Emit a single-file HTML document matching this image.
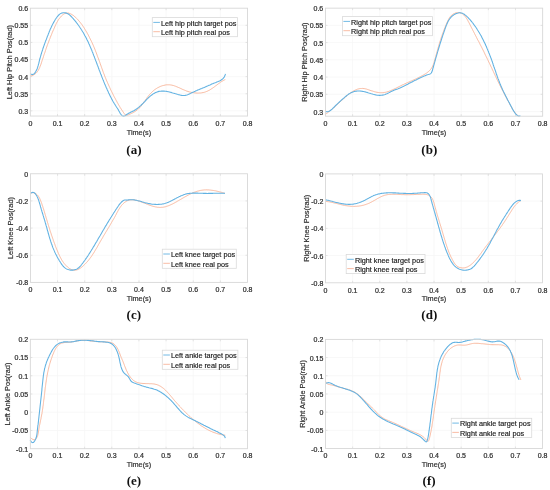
<!DOCTYPE html>
<html><head><meta charset="utf-8"><style>
html,body{margin:0;padding:0;background:#fff;}
svg{display:block;}
.tk{font-family:"Liberation Sans",Arial,sans-serif;font-size:7.0px;fill:#333333;stroke:#333333;stroke-width:0.24px;}
.lb{font-family:"Liberation Sans",Arial,sans-serif;font-size:7.3px;fill:#2e2e2e;stroke:#2e2e2e;stroke-width:0.18px;}
.yl{font-family:"Liberation Sans",Arial,sans-serif;font-size:7.4px;fill:#2e2e2e;stroke:#2e2e2e;stroke-width:0.18px;}
.lg{font-family:"Liberation Sans",Arial,sans-serif;font-size:7.25px;fill:#1a1a1a;stroke:#1a1a1a;stroke-width:0.16px;}
.cp{font-family:"Liberation Serif","Times New Roman",serif;font-size:13px;font-weight:bold;fill:#111;}
</style></head><body>
<svg width="550" height="490" viewBox="0 0 550 490">
<rect width="550" height="490" fill="#fff"/>
<path d="M57.50 8.20V116.05 M84.65 8.20V116.05 M111.80 8.20V116.05 M138.95 8.20V116.05 M166.10 8.20V116.05 M193.25 8.20V116.05 M220.40 8.20V116.05 M30.35 110.85H247.55 M30.35 93.74H247.55 M30.35 76.63H247.55 M30.35 59.52H247.55 M30.35 42.42H247.55 M30.35 25.31H247.55" stroke="#f6f6f6" stroke-width="0.8" fill="none"/>
<path d="M57.50 116.05v-2M57.50 8.20v2 M84.65 116.05v-2M84.65 8.20v2 M111.80 116.05v-2M111.80 8.20v2 M138.95 116.05v-2M138.95 8.20v2 M166.10 116.05v-2M166.10 8.20v2 M193.25 116.05v-2M193.25 8.20v2 M220.40 116.05v-2M220.40 8.20v2 M30.35 110.85h2M247.55 110.85h-2 M30.35 93.74h2M247.55 93.74h-2 M30.35 76.63h2M247.55 76.63h-2 M30.35 59.52h2M247.55 59.52h-2 M30.35 42.42h2M247.55 42.42h-2 M30.35 25.31h2M247.55 25.31h-2" stroke="#d8d8d8" stroke-width="0.7" fill="none"/>
<path d="M30.2 76.2L31.2 75.9L32.1 75.6L33.0 75.2L33.8 74.8L34.6 74.4L35.3 73.8L35.9 73.3L36.5 72.7L37.1 72.0L37.6 71.3L38.1 70.6L38.5 69.9L38.9 69.1L39.3 68.3L39.7 67.5L40.0 66.6L40.4 65.8L40.7 64.9L41.0 64.1L41.3 63.2L41.6 62.3L41.8 61.5L42.1 60.6L42.4 59.7L42.7 58.9L43.0 58.0L43.3 57.2L43.5 56.3L43.8 55.4L44.1 54.6L44.4 53.7L44.7 52.9L45.0 52.1L45.3 51.2L45.5 50.4L45.8 49.5L46.1 48.7L46.4 47.8L46.7 47.0L47.0 46.1L47.3 45.3L47.6 44.5L47.9 43.6L48.3 42.8L48.6 41.9L48.9 41.1L49.2 40.2L49.5 39.4L49.9 38.6L50.2 37.7L50.5 36.9L50.9 36.0L51.2 35.2L51.6 34.4L51.9 33.5L52.2 32.7L52.6 31.9L52.9 31.0L53.3 30.2L53.7 29.4L54.0 28.6L54.4 27.8L54.7 26.9L55.1 26.1L55.5 25.3L55.8 24.5L56.2 23.7L56.6 22.9L57.0 22.2L57.5 21.4L57.9 20.6L58.4 19.8L58.9 19.1L59.5 18.3L60.1 17.6L60.7 16.8L61.4 16.1L62.0 15.5L62.7 14.9L63.5 14.3L64.2 13.8L65.0 13.5L65.8 13.2L66.5 13.0L67.3 13.0L68.1 13.0L68.9 13.2L69.7 13.5L70.5 13.8L71.3 14.2L72.1 14.7L72.9 15.2L73.7 15.7L74.4 16.3L75.1 17.0L75.8 17.6L76.5 18.3L77.2 18.9L77.8 19.6L78.4 20.3L79.0 21.0L79.6 21.7L80.2 22.4L80.7 23.1L81.3 23.8L81.8 24.5L82.3 25.2L82.8 25.9L83.3 26.7L83.8 27.4L84.3 28.2L84.7 28.9L85.2 29.7L85.6 30.4L86.1 31.2L86.5 32.0L87.0 32.7L87.4 33.5L87.9 34.3L88.3 35.1L88.7 35.9L89.1 36.7L89.5 37.5L89.9 38.3L90.3 39.1L90.7 39.9L91.1 40.7L91.5 41.5L91.9 42.3L92.3 43.2L92.6 44.0L93.0 44.8L93.4 45.6L93.7 46.5L94.1 47.3L94.4 48.1L94.8 49.0L95.1 49.8L95.4 50.6L95.7 51.5L96.1 52.3L96.4 53.1L96.7 54.0L97.0 54.8L97.3 55.7L97.6 56.5L97.9 57.4L98.3 58.2L98.6 59.0L98.9 59.9L99.2 60.7L99.5 61.6L99.8 62.4L100.1 63.3L100.4 64.1L100.7 65.0L101.0 65.8L101.3 66.7L101.6 67.5L101.9 68.4L102.2 69.2L102.5 70.0L102.8 70.9L103.1 71.7L103.4 72.6L103.7 73.4L104.1 74.2L104.4 75.1L104.7 75.9L105.0 76.8L105.4 77.6L105.7 78.4L106.0 79.2L106.4 80.1L106.7 80.9L107.1 81.7L107.5 82.6L107.8 83.4L108.2 84.2L108.6 85.0L108.9 85.8L109.3 86.6L109.7 87.5L110.1 88.3L110.4 89.1L110.8 89.9L111.2 90.7L111.6 91.5L112.0 92.3L112.4 93.1L112.8 93.9L113.2 94.7L113.6 95.5L114.0 96.4L114.4 97.2L114.9 97.9L115.3 98.7L115.7 99.5L116.1 100.3L116.6 101.1L117.0 101.9L117.4 102.7L117.9 103.5L118.3 104.3L118.8 105.1L119.2 105.8L119.7 106.6L120.1 107.4L120.6 108.1L121.1 108.9L121.6 109.7L122.1 110.4L122.6 111.2L123.1 111.9L123.6 112.7L124.1 113.4L124.6 114.1L125.2 114.8L125.8 115.2L126.5 115.4L127.2 115.3L128.1 115.0L128.9 114.6L129.8 114.2L130.6 113.8L131.5 113.4L132.3 113.0L133.1 112.6L133.9 112.1L134.7 111.7L135.5 111.2L136.2 110.7L137.0 110.2L137.6 109.6L138.3 109.0L138.9 108.4L139.6 107.8L140.2 107.1L140.7 106.5L141.3 105.8L141.8 105.1L142.4 104.4L142.9 103.7L143.4 103.0L143.9 102.2L144.4 101.5L145.0 100.8L145.5 100.0L146.0 99.3L146.5 98.6L147.0 97.8L147.5 97.1L148.1 96.4L148.6 95.7L149.2 95.0L149.8 94.3L150.4 93.6L151.0 93.0L151.7 92.3L152.3 91.7L153.0 91.1L153.7 90.5L154.4 89.9L155.1 89.4L155.9 88.9L156.6 88.4L157.4 87.9L158.2 87.5L159.0 87.1L159.8 86.7L160.7 86.3L161.5 86.0L162.4 85.7L163.3 85.5L164.1 85.3L165.0 85.1L165.9 84.9L166.8 84.8L167.7 84.8L168.6 84.8L169.4 84.8L170.3 84.9L171.2 85.0L172.0 85.2L172.9 85.4L173.7 85.6L174.5 85.9L175.4 86.2L176.2 86.5L177.0 86.9L177.8 87.2L178.7 87.6L179.5 87.9L180.3 88.3L181.2 88.7L182.0 89.1L182.8 89.5L183.7 89.8L184.5 90.2L185.4 90.5L186.2 90.9L187.1 91.2L188.0 91.5L188.9 91.7L189.7 92.0L190.6 92.2L191.5 92.4L192.4 92.6L193.3 92.7L194.2 92.8L195.1 92.9L196.0 93.0L196.9 93.1L197.7 93.1L198.6 93.1L199.5 93.0L200.4 93.0L201.3 92.9L202.1 92.7L203.0 92.6L203.8 92.4L204.7 92.2L205.5 91.9L206.3 91.6L207.1 91.3L207.9 90.9L208.7 90.5L209.5 90.1L210.3 89.6L211.1 89.1L211.8 88.6L212.6 88.1L213.3 87.6L214.1 87.1L214.8 86.5L215.6 85.9L216.3 85.4L217.0 84.8L217.8 84.3L218.5 83.7L219.3 83.2L220.0 82.7L220.7 82.1L221.5 81.6L222.2 81.2L223.0 80.7L223.7 80.3L224.5 79.9L225.3 79.6" stroke="#f8b69c" stroke-width="0.98" fill="none" stroke-linejoin="round"/>
<path d="M30.3 73.6L31.3 74.2L32.2 74.5L33.0 74.4L33.7 74.1L34.3 73.6L34.9 72.9L35.4 72.1L35.9 71.3L36.3 70.5L36.7 69.7L37.1 68.9L37.4 68.0L37.7 67.2L37.9 66.3L38.2 65.4L38.4 64.6L38.7 63.7L38.9 62.8L39.1 61.9L39.3 61.1L39.5 60.2L39.7 59.3L40.0 58.5L40.2 57.6L40.5 56.7L40.7 55.9L41.0 55.0L41.2 54.1L41.5 53.3L41.7 52.4L42.0 51.6L42.3 50.7L42.6 49.9L42.8 49.0L43.1 48.1L43.4 47.3L43.7 46.4L44.0 45.6L44.3 44.8L44.6 43.9L44.9 43.1L45.2 42.2L45.5 41.4L45.8 40.5L46.2 39.7L46.5 38.9L46.8 38.0L47.1 37.2L47.4 36.3L47.8 35.5L48.1 34.7L48.4 33.8L48.8 33.0L49.1 32.1L49.4 31.3L49.8 30.5L50.1 29.6L50.5 28.8L50.9 28.0L51.2 27.2L51.6 26.4L52.0 25.6L52.4 24.8L52.8 23.9L53.2 23.2L53.7 22.4L54.1 21.6L54.6 20.8L55.0 20.0L55.5 19.3L56.0 18.5L56.5 17.8L57.0 17.0L57.6 16.3L58.2 15.6L58.8 15.0L59.4 14.4L60.1 13.9L60.9 13.4L61.7 13.1L62.5 12.9L63.5 12.8L64.4 12.8L65.4 12.9L66.3 13.1L67.1 13.4L67.9 13.8L68.7 14.3L69.4 14.8L70.1 15.4L70.7 16.0L71.4 16.7L72.0 17.3L72.6 18.0L73.2 18.7L73.8 19.4L74.4 20.0L74.9 20.7L75.5 21.4L76.1 22.1L76.6 22.8L77.2 23.6L77.7 24.3L78.3 25.0L78.8 25.7L79.3 26.5L79.8 27.2L80.3 28.0L80.8 28.7L81.3 29.5L81.8 30.2L82.2 31.0L82.7 31.8L83.2 32.5L83.6 33.3L84.1 34.1L84.5 34.9L84.9 35.7L85.4 36.5L85.8 37.2L86.2 38.0L86.6 38.8L87.0 39.7L87.4 40.5L87.8 41.3L88.2 42.1L88.6 42.9L88.9 43.7L89.3 44.5L89.7 45.4L90.0 46.2L90.4 47.0L90.7 47.8L91.1 48.7L91.4 49.5L91.8 50.3L92.1 51.2L92.4 52.0L92.8 52.8L93.1 53.7L93.4 54.5L93.7 55.4L94.1 56.2L94.4 57.0L94.7 57.9L95.0 58.7L95.3 59.6L95.6 60.4L96.0 61.2L96.3 62.1L96.6 62.9L96.9 63.8L97.2 64.6L97.5 65.4L97.9 66.3L98.2 67.1L98.5 68.0L98.8 68.8L99.1 69.7L99.4 70.5L99.8 71.3L100.1 72.2L100.4 73.0L100.7 73.9L101.1 74.7L101.4 75.5L101.7 76.4L102.0 77.2L102.4 78.0L102.7 78.9L103.0 79.7L103.4 80.5L103.7 81.4L104.0 82.2L104.4 83.0L104.7 83.9L105.1 84.7L105.4 85.5L105.8 86.4L106.1 87.2L106.5 88.0L106.9 88.8L107.2 89.7L107.6 90.5L108.0 91.3L108.3 92.1L108.7 93.0L109.1 93.8L109.5 94.6L109.9 95.4L110.3 96.2L110.7 97.0L111.1 97.8L111.5 98.6L111.9 99.4L112.4 100.2L112.8 101.0L113.2 101.7L113.7 102.5L114.1 103.3L114.6 104.0L115.1 104.8L115.5 105.5L116.0 106.3L116.5 107.0L117.0 107.8L117.5 108.5L118.0 109.3L118.5 110.1L118.9 110.9L119.4 111.8L119.9 112.7L120.3 113.5L120.9 114.3L121.5 115.0L122.1 115.6L122.8 116.0L123.5 116.1L124.3 116.0L125.0 115.7L125.7 115.2L126.4 114.7L127.1 114.2L127.9 113.8L128.6 113.3L129.4 112.9L130.2 112.5L131.0 112.1L131.8 111.7L132.6 111.3L133.4 110.9L134.2 110.5L135.0 110.0L135.8 109.5L136.5 109.0L137.2 108.5L138.0 107.9L138.7 107.4L139.3 106.8L140.0 106.2L140.7 105.6L141.3 105.0L141.9 104.4L142.5 103.8L143.2 103.2L143.8 102.5L144.4 101.9L145.0 101.3L145.6 100.6L146.2 100.0L146.8 99.3L147.5 98.7L148.1 98.1L148.8 97.4L149.5 96.8L150.2 96.2L150.9 95.6L151.7 95.0L152.4 94.5L153.2 93.9L154.0 93.4L154.8 93.0L155.6 92.6L156.5 92.2L157.3 91.9L158.1 91.6L159.0 91.4L159.8 91.3L160.7 91.2L161.6 91.1L162.4 91.1L163.3 91.1L164.1 91.1L165.0 91.2L165.9 91.3L166.8 91.4L167.6 91.6L168.5 91.8L169.4 92.0L170.3 92.2L171.2 92.4L172.0 92.7L172.9 93.0L173.8 93.2L174.7 93.5L175.6 93.8L176.5 94.0L177.3 94.3L178.2 94.6L179.1 94.8L180.0 95.0L180.8 95.2L181.7 95.4L182.6 95.5L183.4 95.5L184.3 95.5L185.1 95.4L186.0 95.2L186.8 95.0L187.7 94.7L188.5 94.3L189.4 94.0L190.2 93.6L191.1 93.1L191.9 92.7L192.7 92.3L193.6 91.9L194.4 91.5L195.2 91.2L196.1 90.8L196.9 90.5L197.7 90.1L198.5 89.8L199.4 89.5L200.2 89.1L201.0 88.8L201.8 88.5L202.6 88.1L203.4 87.8L204.3 87.4L205.1 87.1L205.9 86.7L206.7 86.3L207.5 86.0L208.4 85.6L209.2 85.2L210.0 84.9L210.9 84.5L211.7 84.1L212.5 83.8L213.4 83.5L214.2 83.1L215.1 82.8L215.9 82.5L216.8 82.1L217.6 81.8L218.5 81.5L219.3 81.1L220.1 80.7L220.8 80.3L221.5 79.8L222.2 79.3L222.9 78.7L223.4 78.1L224.0 77.4L224.4 76.7L224.8 75.8L225.2 74.9L225.4 73.9" stroke="#62b2e2" stroke-width="1.08" fill="none" stroke-linejoin="round"/>
<rect x="30.35" y="8.20" width="217.20" height="107.85" fill="none" stroke="#d8d8d8" stroke-width="0.9"/>
<text x="30.35" y="126.05" class="tk" text-anchor="middle">0</text>
<text x="57.50" y="126.05" class="tk" text-anchor="middle">0.1</text>
<text x="84.65" y="126.05" class="tk" text-anchor="middle">0.2</text>
<text x="111.80" y="126.05" class="tk" text-anchor="middle">0.3</text>
<text x="138.95" y="126.05" class="tk" text-anchor="middle">0.4</text>
<text x="166.10" y="126.05" class="tk" text-anchor="middle">0.5</text>
<text x="193.25" y="126.05" class="tk" text-anchor="middle">0.6</text>
<text x="220.40" y="126.05" class="tk" text-anchor="middle">0.7</text>
<text x="247.55" y="126.05" class="tk" text-anchor="middle">0.8</text>
<text x="28.15" y="113.80" class="tk" text-anchor="end">0.3</text>
<text x="28.15" y="96.69" class="tk" text-anchor="end">0.35</text>
<text x="28.15" y="79.58" class="tk" text-anchor="end">0.4</text>
<text x="28.15" y="62.47" class="tk" text-anchor="end">0.45</text>
<text x="28.15" y="45.37" class="tk" text-anchor="end">0.5</text>
<text x="28.15" y="28.26" class="tk" text-anchor="end">0.55</text>
<text x="28.15" y="11.15" class="tk" text-anchor="end">0.6</text>
<text x="138.95" y="134.65" class="lb" text-anchor="middle">Time(s)</text>
<text transform="translate(11.70 62.12) rotate(-90)" class="yl" text-anchor="middle">Left Hip Pitch Pos(rad)</text>
<rect x="152.30" y="17.60" width="85.26" height="19.10" fill="#fff" stroke="#dadada" stroke-width="0.8"/>
<path d="M153.30 22.40h6.6" stroke="#62b2e2" stroke-width="0.9"/>
<path d="M153.30 31.70h6.6" stroke="#f8b69c" stroke-width="0.9"/>
<text x="161.00" y="25.60" class="lg">Left hip pitch target pos</text>
<text x="161.00" y="34.90" class="lg">Left hip pitch real pos</text>
<text x="133.90" y="153.60" class="cp" text-anchor="middle">(a)</text>
<path d="M352.60 8.15V116.20 M379.75 8.15V116.20 M406.90 8.15V116.20 M434.05 8.15V116.20 M461.20 8.15V116.20 M488.35 8.15V116.20 M515.50 8.15V116.20 M325.45 111.55H542.65 M325.45 94.31H542.65 M325.45 77.08H542.65 M325.45 59.85H542.65 M325.45 42.62H542.65 M325.45 25.38H542.65" stroke="#f6f6f6" stroke-width="0.8" fill="none"/>
<path d="M352.60 116.20v-2M352.60 8.15v2 M379.75 116.20v-2M379.75 8.15v2 M406.90 116.20v-2M406.90 8.15v2 M434.05 116.20v-2M434.05 8.15v2 M461.20 116.20v-2M461.20 8.15v2 M488.35 116.20v-2M488.35 8.15v2 M515.50 116.20v-2M515.50 8.15v2 M325.45 111.55h2M542.65 111.55h-2 M325.45 94.31h2M542.65 94.31h-2 M325.45 77.08h2M542.65 77.08h-2 M325.45 59.85h2M542.65 59.85h-2 M325.45 42.62h2M542.65 42.62h-2 M325.45 25.38h2M542.65 25.38h-2" stroke="#d8d8d8" stroke-width="0.7" fill="none"/>
<path d="M325.3 114.4L326.1 113.9L326.8 113.3L327.6 112.8L328.3 112.2L329.0 111.6L329.7 111.1L330.4 110.5L331.1 110.0L331.7 109.4L332.4 108.8L333.1 108.3L333.7 107.7L334.4 107.1L335.0 106.6L335.6 106.0L336.3 105.4L336.9 104.8L337.5 104.3L338.2 103.7L338.8 103.1L339.4 102.5L340.1 101.9L340.7 101.3L341.4 100.7L342.0 100.1L342.7 99.5L343.3 98.9L344.0 98.3L344.7 97.7L345.4 97.1L346.1 96.4L346.8 95.8L347.5 95.2L348.2 94.7L348.9 94.1L349.7 93.5L350.4 93.0L351.1 92.5L351.9 92.0L352.7 91.5L353.4 91.0L354.2 90.6L355.0 90.2L355.8 89.9L356.6 89.5L357.4 89.2L358.2 89.0L359.0 88.8L359.8 88.6L360.6 88.5L361.5 88.5L362.3 88.4L363.1 88.5L364.0 88.6L364.8 88.7L365.7 88.9L366.6 89.1L367.4 89.4L368.3 89.7L369.2 90.0L370.0 90.3L370.9 90.6L371.8 90.9L372.7 91.1L373.5 91.4L374.4 91.7L375.3 91.9L376.1 92.1L377.0 92.3L377.9 92.4L378.7 92.5L379.6 92.6L380.5 92.7L381.3 92.7L382.2 92.7L383.0 92.7L383.9 92.6L384.7 92.4L385.5 92.3L386.4 92.1L387.2 91.8L388.1 91.6L388.9 91.3L389.7 91.0L390.5 90.7L391.4 90.3L392.2 90.0L393.0 89.6L393.8 89.2L394.6 88.8L395.5 88.4L396.3 88.0L397.1 87.6L397.9 87.2L398.7 86.8L399.5 86.4L400.3 86.0L401.1 85.6L401.9 85.2L402.7 84.8L403.5 84.5L404.3 84.1L405.1 83.7L405.9 83.4L406.7 83.0L407.5 82.6L408.3 82.3L409.1 81.9L409.9 81.6L410.7 81.2L411.5 80.9L412.3 80.5L413.1 80.2L413.9 79.8L414.7 79.4L415.5 79.1L416.3 78.7L417.1 78.3L417.9 77.9L418.7 77.5L419.5 77.1L420.3 76.7L421.0 76.3L421.8 75.9L422.6 75.4L423.4 75.0L424.2 74.5L425.0 74.1L425.7 73.6L426.5 73.1L427.2 72.6L427.9 72.0L428.6 71.5L429.2 70.9L429.9 70.2L430.4 69.6L431.0 68.9L431.5 68.2L431.9 67.5L432.3 66.8L432.7 66.0L433.1 65.2L433.4 64.4L433.7 63.5L434.0 62.7L434.2 61.8L434.5 61.0L434.7 60.1L435.0 59.3L435.2 58.4L435.5 57.5L435.7 56.7L435.9 55.8L436.2 54.9L436.4 54.1L436.7 53.2L436.9 52.3L437.1 51.5L437.4 50.6L437.6 49.7L437.9 48.9L438.1 48.0L438.3 47.2L438.6 46.3L438.8 45.5L439.1 44.6L439.3 43.8L439.6 42.9L439.8 42.1L440.1 41.2L440.4 40.4L440.6 39.6L440.9 38.7L441.2 37.9L441.4 37.1L441.7 36.3L442.0 35.5L442.3 34.6L442.6 33.8L442.9 33.0L443.2 32.2L443.5 31.4L443.8 30.5L444.1 29.7L444.4 28.9L444.7 28.1L445.1 27.2L445.4 26.4L445.7 25.5L446.1 24.7L446.5 23.8L446.8 23.0L447.2 22.1L447.6 21.3L448.0 20.4L448.4 19.6L448.8 18.8L449.3 18.1L449.8 17.3L450.3 16.6L450.9 16.0L451.5 15.3L452.2 14.8L452.9 14.3L453.6 13.8L454.4 13.5L455.1 13.1L456.0 12.9L456.8 12.7L457.6 12.6L458.4 12.6L459.3 12.7L460.1 12.8L460.9 13.0L461.6 13.4L462.4 13.8L463.0 14.3L463.7 14.9L464.3 15.5L464.9 16.2L465.5 16.9L466.1 17.7L466.6 18.5L467.1 19.3L467.6 20.1L468.0 20.9L468.4 21.7L468.9 22.5L469.3 23.3L469.7 24.1L470.1 24.9L470.5 25.7L470.9 26.5L471.3 27.3L471.7 28.1L472.1 28.8L472.5 29.6L472.9 30.4L473.3 31.2L473.7 31.9L474.1 32.7L474.5 33.5L474.9 34.3L475.3 35.1L475.7 35.8L476.1 36.6L476.5 37.4L476.9 38.2L477.3 39.0L477.7 39.8L478.1 40.5L478.6 41.3L479.0 42.1L479.4 42.9L479.8 43.7L480.2 44.5L480.6 45.3L481.0 46.1L481.4 46.8L481.8 47.6L482.2 48.4L482.6 49.2L483.0 50.0L483.4 50.8L483.8 51.6L484.2 52.4L484.6 53.2L484.9 54.0L485.3 54.8L485.7 55.6L486.1 56.4L486.5 57.2L486.9 58.0L487.3 58.8L487.7 59.6L488.1 60.4L488.4 61.2L488.8 62.0L489.2 62.8L489.6 63.6L490.0 64.4L490.3 65.2L490.7 66.0L491.1 66.8L491.5 67.6L491.9 68.4L492.2 69.2L492.6 70.0L493.0 70.8L493.4 71.6L493.7 72.4L494.1 73.2L494.5 74.0L494.9 74.8L495.2 75.6L495.6 76.4L496.0 77.2L496.4 78.0L496.8 78.8L497.1 79.6L497.5 80.4L497.9 81.2L498.3 82.0L498.7 82.8L499.1 83.6L499.5 84.4L499.8 85.1L500.2 85.9L500.6 86.7L501.0 87.5L501.4 88.3L501.8 89.1L502.2 89.9L502.6 90.7L503.1 91.4L503.5 92.2L503.9 93.0L504.3 93.8L504.7 94.6L505.1 95.4L505.5 96.1L506.0 96.9L506.4 97.7L506.8 98.5L507.2 99.3L507.6 100.1L508.1 100.8L508.5 101.6L508.9 102.4L509.3 103.2L509.7 104.0L510.2 104.8L510.6 105.6L511.0 106.4L511.4 107.1L511.9 107.9L512.3 108.7L512.7 109.5L513.2 110.2L513.7 110.9L514.2 111.6L514.7 112.3L515.3 113.0L515.8 113.7L516.4 114.3L517.0 114.9L517.7 115.5L518.4 116.0L519.1 116.5" stroke="#f8b69c" stroke-width="0.98" fill="none" stroke-linejoin="round"/>
<path d="M325.4 111.6L326.3 111.7L327.2 111.8L328.0 111.6L328.8 111.3L329.5 111.0L330.3 110.5L331.0 110.0L331.7 109.4L332.4 108.8L333.0 108.1L333.7 107.5L334.4 106.8L335.0 106.2L335.7 105.5L336.3 104.9L336.9 104.3L337.6 103.7L338.2 103.1L338.9 102.5L339.5 101.9L340.1 101.3L340.8 100.7L341.4 100.1L342.1 99.5L342.8 98.9L343.4 98.4L344.1 97.8L344.8 97.2L345.5 96.6L346.2 96.0L346.9 95.4L347.7 94.9L348.4 94.3L349.2 93.8L349.9 93.4L350.7 92.9L351.5 92.5L352.3 92.2L353.1 91.9L354.0 91.6L354.8 91.4L355.7 91.2L356.5 91.1L357.4 91.0L358.3 91.0L359.2 91.0L360.1 91.0L361.0 91.1L361.9 91.2L362.8 91.4L363.6 91.5L364.5 91.7L365.4 91.9L366.3 92.2L367.2 92.4L368.0 92.7L368.9 93.0L369.8 93.2L370.6 93.5L371.5 93.8L372.3 94.0L373.2 94.3L374.1 94.5L374.9 94.7L375.8 94.9L376.6 95.1L377.5 95.2L378.3 95.3L379.2 95.4L380.0 95.4L380.9 95.3L381.7 95.3L382.6 95.1L383.5 94.9L384.3 94.7L385.2 94.4L386.0 94.0L386.9 93.7L387.7 93.3L388.6 92.9L389.4 92.4L390.3 92.0L391.1 91.6L391.9 91.2L392.8 90.8L393.6 90.4L394.4 90.1L395.2 89.8L396.0 89.5L396.8 89.2L397.7 88.9L398.5 88.6L399.3 88.2L400.1 87.9L400.9 87.6L401.7 87.2L402.5 86.8L403.3 86.5L404.1 86.1L404.9 85.6L405.7 85.2L406.5 84.8L407.3 84.4L408.1 84.0L408.9 83.5L409.7 83.1L410.5 82.7L411.3 82.3L412.1 81.9L412.9 81.5L413.7 81.1L414.5 80.6L415.3 80.2L416.1 79.9L416.9 79.5L417.6 79.1L418.4 78.7L419.2 78.3L420.0 77.9L420.8 77.6L421.6 77.2L422.5 76.8L423.3 76.5L424.1 76.1L424.9 75.8L425.8 75.4L426.6 75.1L427.5 74.8L428.3 74.6L429.2 74.3L430.0 74.0L430.7 73.6L431.2 73.0L431.6 72.4L432.0 71.6L432.3 70.8L432.5 69.9L432.8 69.0L433.0 68.1L433.3 67.3L433.5 66.4L433.7 65.5L434.0 64.7L434.2 63.8L434.5 62.9L434.7 62.1L435.0 61.2L435.2 60.3L435.4 59.5L435.7 58.6L435.9 57.7L436.2 56.9L436.4 56.0L436.7 55.2L436.9 54.3L437.2 53.4L437.4 52.6L437.7 51.7L437.9 50.9L438.2 50.0L438.5 49.2L438.7 48.3L439.0 47.5L439.2 46.6L439.5 45.8L439.7 44.9L440.0 44.1L440.3 43.2L440.5 42.4L440.8 41.5L441.1 40.7L441.4 39.8L441.6 39.0L441.9 38.1L442.2 37.3L442.5 36.4L442.7 35.6L443.0 34.7L443.3 33.9L443.6 33.0L443.9 32.2L444.2 31.3L444.5 30.5L444.8 29.6L445.1 28.7L445.4 27.9L445.7 27.0L446.0 26.2L446.3 25.4L446.7 24.5L447.0 23.7L447.4 22.9L447.8 22.1L448.2 21.3L448.6 20.5L449.1 19.7L449.6 19.0L450.1 18.3L450.7 17.6L451.3 16.9L451.9 16.3L452.6 15.7L453.4 15.2L454.1 14.6L454.9 14.2L455.7 13.8L456.5 13.4L457.3 13.2L458.2 13.0L459.0 12.8L459.8 12.8L460.7 12.9L461.5 13.1L462.3 13.3L463.0 13.6L463.8 14.1L464.6 14.5L465.3 15.1L466.0 15.6L466.7 16.3L467.4 16.9L468.1 17.6L468.7 18.3L469.4 19.0L470.0 19.7L470.6 20.4L471.2 21.1L471.8 21.8L472.3 22.5L472.9 23.2L473.4 23.9L473.9 24.6L474.5 25.3L475.0 26.1L475.5 26.8L476.0 27.5L476.5 28.2L477.0 29.0L477.4 29.7L477.9 30.5L478.4 31.2L478.8 32.0L479.3 32.7L479.7 33.5L480.2 34.3L480.6 35.0L481.1 35.8L481.5 36.6L481.9 37.4L482.3 38.2L482.7 39.0L483.1 39.8L483.5 40.6L483.9 41.4L484.3 42.2L484.7 43.0L485.1 43.8L485.4 44.6L485.8 45.4L486.2 46.2L486.5 47.1L486.9 47.9L487.2 48.7L487.6 49.5L487.9 50.4L488.3 51.2L488.6 52.0L488.9 52.9L489.3 53.7L489.6 54.6L489.9 55.4L490.2 56.2L490.5 57.1L490.9 57.9L491.2 58.8L491.5 59.6L491.8 60.4L492.1 61.3L492.4 62.1L492.7 63.0L493.0 63.8L493.2 64.7L493.5 65.5L493.8 66.4L494.1 67.2L494.4 68.0L494.7 68.9L495.0 69.7L495.3 70.6L495.6 71.4L495.9 72.3L496.1 73.1L496.4 74.0L496.7 74.8L497.0 75.6L497.3 76.5L497.6 77.3L497.9 78.2L498.2 79.0L498.6 79.8L498.9 80.7L499.2 81.5L499.5 82.3L499.8 83.2L500.2 84.0L500.5 84.8L500.8 85.6L501.2 86.5L501.5 87.3L501.9 88.1L502.3 88.9L502.6 89.7L503.0 90.5L503.4 91.4L503.8 92.2L504.2 93.0L504.6 93.8L505.0 94.6L505.4 95.4L505.8 96.2L506.2 97.0L506.6 97.8L507.0 98.6L507.4 99.4L507.8 100.2L508.3 101.0L508.7 101.8L509.1 102.5L509.5 103.3L509.9 104.1L510.3 104.9L510.8 105.7L511.2 106.5L511.6 107.3L512.0 108.1L512.4 108.9L512.9 109.7L513.3 110.4L513.8 111.2L514.3 111.9L514.8 112.7L515.3 113.4L515.9 114.1L516.5 114.7L517.1 115.4L517.8 115.8L518.6 116.1L519.4 116.1L520.4 115.8" stroke="#62b2e2" stroke-width="1.08" fill="none" stroke-linejoin="round"/>
<rect x="325.45" y="8.15" width="217.20" height="108.05" fill="none" stroke="#d8d8d8" stroke-width="0.9"/>
<text x="325.45" y="126.20" class="tk" text-anchor="middle">0</text>
<text x="352.60" y="126.20" class="tk" text-anchor="middle">0.1</text>
<text x="379.75" y="126.20" class="tk" text-anchor="middle">0.2</text>
<text x="406.90" y="126.20" class="tk" text-anchor="middle">0.3</text>
<text x="434.05" y="126.20" class="tk" text-anchor="middle">0.4</text>
<text x="461.20" y="126.20" class="tk" text-anchor="middle">0.5</text>
<text x="488.35" y="126.20" class="tk" text-anchor="middle">0.6</text>
<text x="515.50" y="126.20" class="tk" text-anchor="middle">0.7</text>
<text x="542.65" y="126.20" class="tk" text-anchor="middle">0.8</text>
<text x="323.25" y="114.50" class="tk" text-anchor="end">0.3</text>
<text x="323.25" y="97.26" class="tk" text-anchor="end">0.35</text>
<text x="323.25" y="80.03" class="tk" text-anchor="end">0.4</text>
<text x="323.25" y="62.80" class="tk" text-anchor="end">0.45</text>
<text x="323.25" y="45.57" class="tk" text-anchor="end">0.5</text>
<text x="323.25" y="28.33" class="tk" text-anchor="end">0.55</text>
<text x="323.25" y="11.10" class="tk" text-anchor="end">0.6</text>
<text x="434.05" y="134.80" class="lb" text-anchor="middle">Time(s)</text>
<text transform="translate(307.00 62.18) rotate(-90)" class="yl" text-anchor="middle">Right Hip Pitch Pos(rad)</text>
<rect x="342.40" y="16.60" width="90.09" height="19.10" fill="#fff" stroke="#dadada" stroke-width="0.8"/>
<path d="M343.40 21.40h6.6" stroke="#62b2e2" stroke-width="0.9"/>
<path d="M343.40 30.70h6.6" stroke="#f8b69c" stroke-width="0.9"/>
<text x="351.10" y="24.60" class="lg">Right hip pitch target pos</text>
<text x="351.10" y="33.90" class="lg">Right hip pitch real pos</text>
<text x="429.30" y="153.60" class="cp" text-anchor="middle">(b)</text>
<path d="M57.58 173.75V282.40 M84.71 173.75V282.40 M111.84 173.75V282.40 M138.97 173.75V282.40 M166.11 173.75V282.40 M193.24 173.75V282.40 M220.37 173.75V282.40 M30.45 255.24H247.50 M30.45 228.07H247.50 M30.45 200.91H247.50" stroke="#f6f6f6" stroke-width="0.8" fill="none"/>
<path d="M57.58 282.40v-2M57.58 173.75v2 M84.71 282.40v-2M84.71 173.75v2 M111.84 282.40v-2M111.84 173.75v2 M138.97 282.40v-2M138.97 173.75v2 M166.11 282.40v-2M166.11 173.75v2 M193.24 282.40v-2M193.24 173.75v2 M220.37 282.40v-2M220.37 173.75v2 M30.45 255.24h2M247.50 255.24h-2 M30.45 228.07h2M247.50 228.07h-2 M30.45 200.91h2M247.50 200.91h-2" stroke="#d8d8d8" stroke-width="0.7" fill="none"/>
<path d="M30.5 193.0L31.5 192.7L32.4 192.7L33.2 192.7L34.0 192.8L34.7 193.1L35.4 193.4L36.0 193.8L36.6 194.3L37.2 194.8L37.7 195.3L38.2 196.0L38.7 196.6L39.1 197.3L39.5 198.0L39.8 198.7L40.2 199.5L40.5 200.3L40.8 201.0L41.1 201.8L41.4 202.6L41.7 203.4L42.0 204.3L42.2 205.1L42.5 205.9L42.8 206.7L43.0 207.5L43.3 208.3L43.5 209.0L43.8 209.8L44.0 210.6L44.3 211.4L44.5 212.2L44.7 213.0L45.0 213.8L45.2 214.6L45.4 215.3L45.7 216.1L45.9 216.9L46.1 217.7L46.4 218.5L46.6 219.3L46.8 220.0L47.1 220.8L47.3 221.6L47.5 222.4L47.8 223.2L48.0 223.9L48.2 224.7L48.5 225.5L48.7 226.3L49.0 227.1L49.2 227.8L49.5 228.6L49.7 229.4L49.9 230.2L50.2 231.0L50.4 231.7L50.7 232.5L51.0 233.3L51.2 234.1L51.5 234.9L51.7 235.6L52.0 236.4L52.3 237.2L52.5 238.0L52.8 238.7L53.1 239.5L53.3 240.3L53.6 241.1L53.9 241.8L54.2 242.6L54.5 243.4L54.8 244.2L55.0 244.9L55.3 245.7L55.6 246.5L55.9 247.3L56.2 248.0L56.5 248.8L56.8 249.6L57.2 250.3L57.5 251.1L57.8 251.9L58.1 252.6L58.4 253.4L58.8 254.1L59.1 254.9L59.5 255.6L59.8 256.4L60.2 257.1L60.6 257.9L61.0 258.6L61.4 259.3L61.8 260.0L62.2 260.7L62.7 261.4L63.1 262.1L63.6 262.7L64.1 263.4L64.6 264.0L65.2 264.6L65.7 265.2L66.3 265.8L66.9 266.4L67.5 267.0L68.2 267.5L68.8 268.0L69.5 268.5L70.2 268.9L70.9 269.3L71.6 269.6L72.4 269.8L73.1 270.0L73.9 270.1L74.6 270.2L75.4 270.1L76.2 270.0L76.9 269.8L77.7 269.6L78.4 269.3L79.1 268.9L79.8 268.5L80.5 268.0L81.2 267.5L81.9 267.0L82.6 266.5L83.2 265.9L83.8 265.3L84.4 264.7L85.0 264.1L85.6 263.5L86.2 262.9L86.8 262.3L87.3 261.7L87.9 261.0L88.4 260.4L88.9 259.8L89.4 259.1L89.9 258.4L90.4 257.8L90.9 257.1L91.4 256.4L91.8 255.8L92.3 255.1L92.7 254.4L93.2 253.7L93.6 253.0L94.1 252.3L94.5 251.6L94.9 250.9L95.3 250.2L95.7 249.5L96.2 248.8L96.6 248.1L97.0 247.4L97.4 246.7L97.8 246.0L98.2 245.3L98.6 244.5L99.0 243.8L99.4 243.1L99.8 242.4L100.2 241.7L100.6 241.0L101.0 240.3L101.4 239.6L101.9 238.9L102.3 238.2L102.7 237.5L103.1 236.7L103.5 236.0L103.9 235.3L104.4 234.6L104.8 233.9L105.2 233.2L105.6 232.5L106.0 231.8L106.5 231.1L106.9 230.4L107.3 229.7L107.7 229.0L108.1 228.3L108.6 227.6L109.0 226.9L109.4 226.2L109.8 225.5L110.2 224.8L110.7 224.1L111.1 223.3L111.5 222.6L111.9 221.9L112.3 221.2L112.7 220.5L113.1 219.8L113.6 219.1L114.0 218.3L114.4 217.6L114.8 216.9L115.2 216.2L115.6 215.4L116.0 214.7L116.4 214.0L116.7 213.2L117.1 212.5L117.5 211.8L117.9 211.1L118.3 210.3L118.7 209.6L119.2 208.9L119.6 208.2L120.0 207.5L120.5 206.8L121.0 206.2L121.5 205.5L122.0 204.9L122.6 204.3L123.2 203.7L123.8 203.1L124.4 202.6L125.1 202.1L125.8 201.6L126.5 201.2L127.2 200.8L127.9 200.5L128.7 200.3L129.4 200.1L130.2 199.9L130.9 199.8L131.7 199.8L132.5 199.8L133.2 199.8L134.0 199.9L134.8 200.0L135.6 200.2L136.4 200.3L137.2 200.5L138.0 200.8L138.8 201.0L139.6 201.3L140.4 201.6L141.2 201.9L142.0 202.2L142.8 202.5L143.6 202.8L144.4 203.1L145.2 203.4L146.0 203.7L146.8 204.1L147.6 204.4L148.4 204.7L149.2 205.0L150.0 205.3L150.8 205.5L151.5 205.8L152.3 206.1L153.1 206.3L153.9 206.5L154.7 206.7L155.5 206.9L156.3 207.0L157.1 207.2L157.8 207.3L158.6 207.3L159.4 207.4L160.2 207.4L160.9 207.4L161.7 207.3L162.5 207.3L163.3 207.2L164.0 207.0L164.8 206.9L165.6 206.7L166.3 206.4L167.1 206.2L167.9 205.9L168.6 205.7L169.4 205.4L170.1 205.0L170.9 204.7L171.7 204.3L172.4 204.0L173.2 203.6L173.9 203.2L174.7 202.8L175.4 202.4L176.1 202.0L176.9 201.6L177.6 201.1L178.4 200.7L179.1 200.3L179.8 199.8L180.6 199.4L181.3 199.0L182.0 198.5L182.8 198.1L183.5 197.7L184.2 197.3L184.9 196.9L185.7 196.5L186.4 196.1L187.1 195.7L187.9 195.3L188.6 194.9L189.3 194.5L190.0 194.2L190.8 193.8L191.5 193.5L192.2 193.1L193.0 192.8L193.7 192.5L194.5 192.2L195.2 192.0L196.0 191.7L196.7 191.4L197.5 191.2L198.3 191.0L199.0 190.8L199.8 190.6L200.6 190.4L201.4 190.3L202.1 190.2L202.9 190.1L203.7 190.0L204.5 189.9L205.4 189.9L206.2 189.8L207.0 189.9L207.8 189.9L208.7 189.9L209.5 190.0L210.4 190.1L211.2 190.2L212.1 190.3L212.9 190.4L213.7 190.5L214.6 190.7L215.4 190.8L216.2 191.0L217.1 191.2L217.9 191.4L218.7 191.6L219.5 191.8L220.3 192.0L221.1 192.2L221.9 192.4L222.6 192.7L223.4 192.9L224.1 193.1L224.8 193.3" stroke="#f8b69c" stroke-width="0.98" fill="none" stroke-linejoin="round"/>
<path d="M30.5 193.4L31.5 192.7L32.4 192.4L33.2 192.4L33.9 192.6L34.5 193.0L35.1 193.5L35.6 194.1L36.0 194.7L36.5 195.4L36.9 196.1L37.2 196.8L37.6 197.5L37.9 198.3L38.2 199.0L38.5 199.8L38.8 200.6L39.0 201.4L39.3 202.2L39.5 203.0L39.7 203.8L40.0 204.6L40.2 205.4L40.4 206.2L40.6 207.0L40.9 207.8L41.1 208.6L41.3 209.4L41.6 210.2L41.8 210.9L42.0 211.7L42.3 212.5L42.5 213.3L42.8 214.1L43.0 214.9L43.2 215.7L43.5 216.4L43.7 217.2L43.9 218.0L44.2 218.8L44.4 219.6L44.7 220.3L44.9 221.1L45.1 221.9L45.3 222.7L45.6 223.5L45.8 224.3L46.0 225.1L46.2 225.9L46.5 226.7L46.7 227.4L46.9 228.2L47.1 229.0L47.3 229.8L47.5 230.6L47.8 231.4L48.0 232.2L48.2 233.0L48.4 233.8L48.7 234.6L48.9 235.4L49.1 236.2L49.4 237.0L49.6 237.8L49.8 238.5L50.1 239.3L50.3 240.1L50.6 240.9L50.8 241.7L51.1 242.5L51.3 243.2L51.6 244.0L51.9 244.8L52.2 245.6L52.4 246.3L52.7 247.1L53.0 247.9L53.3 248.6L53.6 249.4L54.0 250.1L54.3 250.9L54.6 251.6L54.9 252.4L55.3 253.1L55.6 253.9L56.0 254.6L56.4 255.3L56.8 256.0L57.1 256.8L57.5 257.5L57.9 258.2L58.4 258.9L58.8 259.6L59.2 260.4L59.6 261.1L60.1 261.8L60.5 262.5L61.0 263.2L61.4 263.9L61.9 264.6L62.4 265.3L62.9 265.9L63.5 266.5L64.1 267.1L64.7 267.6L65.3 268.1L66.0 268.6L66.7 269.0L67.4 269.3L68.2 269.6L69.0 269.8L69.8 270.0L70.6 270.1L71.4 270.1L72.3 270.1L73.1 270.1L73.9 269.9L74.7 269.8L75.5 269.5L76.3 269.2L77.0 268.9L77.7 268.5L78.3 268.0L79.0 267.5L79.6 266.9L80.1 266.4L80.7 265.8L81.2 265.1L81.7 264.5L82.2 263.8L82.7 263.1L83.2 262.5L83.7 261.8L84.2 261.1L84.7 260.5L85.2 259.8L85.6 259.1L86.1 258.4L86.6 257.8L87.0 257.1L87.5 256.4L88.0 255.7L88.4 255.0L88.9 254.3L89.3 253.6L89.8 252.9L90.2 252.2L90.6 251.5L91.1 250.8L91.5 250.1L91.9 249.4L92.4 248.7L92.8 248.0L93.2 247.3L93.6 246.6L94.1 245.9L94.5 245.2L94.9 244.5L95.3 243.8L95.7 243.1L96.1 242.4L96.6 241.7L97.0 241.0L97.4 240.3L97.8 239.6L98.2 238.8L98.6 238.1L99.0 237.4L99.4 236.7L99.9 236.0L100.3 235.3L100.7 234.6L101.1 233.9L101.5 233.2L101.9 232.5L102.3 231.8L102.7 231.1L103.1 230.3L103.6 229.6L104.0 228.9L104.4 228.2L104.8 227.5L105.2 226.8L105.6 226.1L106.1 225.4L106.5 224.7L106.9 224.0L107.3 223.3L107.7 222.6L108.2 221.9L108.6 221.2L109.0 220.5L109.4 219.8L109.9 219.1L110.3 218.4L110.7 217.7L111.2 217.0L111.6 216.3L112.1 215.6L112.5 214.9L112.9 214.2L113.4 213.5L113.8 212.8L114.3 212.1L114.7 211.4L115.2 210.7L115.6 210.0L116.1 209.3L116.6 208.6L117.0 207.9L117.5 207.2L118.0 206.5L118.5 205.8L118.9 205.1L119.4 204.4L119.9 203.8L120.4 203.2L121.0 202.6L121.5 202.0L122.1 201.5L122.7 201.0L123.3 200.6L123.9 200.2L124.6 200.0L125.2 200.0L126.0 200.0L126.8 200.1L127.6 200.0L128.4 199.9L129.2 199.8L130.1 199.7L130.9 199.7L131.7 199.7L132.5 199.7L133.3 199.8L134.1 199.9L134.9 200.0L135.7 200.2L136.5 200.3L137.2 200.5L138.0 200.7L138.8 200.9L139.6 201.1L140.4 201.3L141.2 201.5L141.9 201.8L142.7 202.0L143.5 202.2L144.3 202.5L145.1 202.7L145.9 202.9L146.7 203.1L147.5 203.3L148.3 203.5L149.1 203.6L150.0 203.8L150.8 203.9L151.6 204.1L152.4 204.2L153.3 204.3L154.1 204.3L154.9 204.4L155.7 204.4L156.6 204.5L157.4 204.5L158.2 204.4L159.0 204.4L159.8 204.3L160.7 204.3L161.5 204.2L162.3 204.0L163.1 203.9L163.9 203.7L164.7 203.5L165.4 203.3L166.2 203.0L167.0 202.8L167.7 202.5L168.5 202.2L169.2 201.8L170.0 201.5L170.7 201.1L171.5 200.8L172.2 200.4L172.9 200.0L173.7 199.6L174.4 199.2L175.1 198.8L175.9 198.4L176.6 198.0L177.3 197.6L178.1 197.3L178.8 196.9L179.5 196.5L180.3 196.2L181.0 195.8L181.8 195.5L182.5 195.2L183.3 194.9L184.0 194.6L184.8 194.4L185.6 194.1L186.3 193.9L187.1 193.8L187.9 193.6L188.7 193.5L189.5 193.4L190.3 193.3L191.1 193.2L191.9 193.2L192.8 193.1L193.6 193.1L194.4 193.1L195.2 193.1L196.1 193.1L196.9 193.1L197.7 193.1L198.6 193.2L199.4 193.2L200.2 193.2L201.1 193.3L201.9 193.3L202.7 193.3L203.6 193.4L204.4 193.4L205.2 193.4L206.1 193.4L206.9 193.5L207.7 193.5L208.5 193.4L209.3 193.4L210.1 193.4L211.0 193.4L211.8 193.4L212.6 193.4L213.4 193.3L214.2 193.3L215.0 193.3L215.8 193.3L216.7 193.2L217.5 193.2L218.3 193.2L219.1 193.2L219.9 193.2L220.8 193.2L221.6 193.2L222.4 193.2L223.2 193.3L224.1 193.3L224.9 193.4" stroke="#62b2e2" stroke-width="1.08" fill="none" stroke-linejoin="round"/>
<rect x="30.45" y="173.75" width="217.05" height="108.65" fill="none" stroke="#d8d8d8" stroke-width="0.9"/>
<text x="30.45" y="292.40" class="tk" text-anchor="middle">0</text>
<text x="57.58" y="292.40" class="tk" text-anchor="middle">0.1</text>
<text x="84.71" y="292.40" class="tk" text-anchor="middle">0.2</text>
<text x="111.84" y="292.40" class="tk" text-anchor="middle">0.3</text>
<text x="138.97" y="292.40" class="tk" text-anchor="middle">0.4</text>
<text x="166.11" y="292.40" class="tk" text-anchor="middle">0.5</text>
<text x="193.24" y="292.40" class="tk" text-anchor="middle">0.6</text>
<text x="220.37" y="292.40" class="tk" text-anchor="middle">0.7</text>
<text x="247.50" y="292.40" class="tk" text-anchor="middle">0.8</text>
<text x="28.25" y="285.35" class="tk" text-anchor="end">-0.8</text>
<text x="28.25" y="258.19" class="tk" text-anchor="end">-0.6</text>
<text x="28.25" y="231.02" class="tk" text-anchor="end">-0.4</text>
<text x="28.25" y="203.86" class="tk" text-anchor="end">-0.2</text>
<text x="28.25" y="176.70" class="tk" text-anchor="end">0</text>
<text x="138.97" y="301.00" class="lb" text-anchor="middle">Time(s)</text>
<text transform="translate(13.30 228.07) rotate(-90)" class="yl" text-anchor="middle">Left Knee Pos(rad)</text>
<rect x="162.30" y="249.20" width="73.98" height="19.10" fill="#fff" stroke="#dadada" stroke-width="0.8"/>
<path d="M163.30 254.00h6.6" stroke="#62b2e2" stroke-width="0.9"/>
<path d="M163.30 263.30h6.6" stroke="#f8b69c" stroke-width="0.9"/>
<text x="171.00" y="257.20" class="lg">Left knee target pos</text>
<text x="171.00" y="266.50" class="lg">Left knee real pos</text>
<text x="133.80" y="318.90" class="cp" text-anchor="middle">(c)</text>
<path d="M352.63 173.90V282.80 M379.76 173.90V282.80 M406.89 173.90V282.80 M434.02 173.90V282.80 M461.16 173.90V282.80 M488.29 173.90V282.80 M515.42 173.90V282.80 M325.50 255.57H542.55 M325.50 228.35H542.55 M325.50 201.12H542.55" stroke="#f6f6f6" stroke-width="0.8" fill="none"/>
<path d="M352.63 282.80v-2M352.63 173.90v2 M379.76 282.80v-2M379.76 173.90v2 M406.89 282.80v-2M406.89 173.90v2 M434.02 282.80v-2M434.02 173.90v2 M461.16 282.80v-2M461.16 173.90v2 M488.29 282.80v-2M488.29 173.90v2 M515.42 282.80v-2M515.42 173.90v2 M325.50 255.57h2M542.55 255.57h-2 M325.50 228.35h2M542.55 228.35h-2 M325.50 201.12h2M542.55 201.12h-2" stroke="#d8d8d8" stroke-width="0.7" fill="none"/>
<path d="M325.7 201.4L326.5 201.5L327.3 201.6L328.1 201.7L328.9 201.8L329.6 201.9L330.4 202.1L331.2 202.2L332.0 202.4L332.8 202.6L333.6 202.8L334.3 203.0L335.1 203.1L335.9 203.3L336.7 203.5L337.5 203.7L338.3 203.9L339.1 204.1L339.8 204.3L340.6 204.5L341.4 204.7L342.2 204.9L343.0 205.1L343.8 205.3L344.6 205.4L345.4 205.6L346.2 205.7L347.0 205.8L347.8 205.9L348.6 206.0L349.4 206.1L350.2 206.2L351.0 206.3L351.8 206.3L352.6 206.3L353.4 206.4L354.2 206.4L355.0 206.4L355.7 206.3L356.5 206.3L357.3 206.2L358.1 206.1L358.9 206.1L359.7 205.9L360.5 205.8L361.3 205.7L362.0 205.5L362.8 205.3L363.6 205.2L364.4 204.9L365.1 204.7L365.9 204.5L366.6 204.2L367.4 203.9L368.1 203.6L368.8 203.3L369.6 203.0L370.3 202.6L371.0 202.3L371.7 201.9L372.4 201.5L373.1 201.1L373.9 200.7L374.6 200.3L375.3 199.9L376.0 199.5L376.7 199.1L377.4 198.6L378.1 198.3L378.8 197.9L379.5 197.5L380.2 197.1L380.9 196.8L381.7 196.4L382.4 196.1L383.1 195.8L383.9 195.6L384.6 195.3L385.4 195.1L386.1 194.9L386.9 194.8L387.7 194.6L388.5 194.5L389.3 194.4L390.1 194.4L390.9 194.3L391.7 194.3L392.5 194.3L393.3 194.3L394.1 194.3L394.9 194.3L395.7 194.3L396.6 194.3L397.4 194.4L398.2 194.4L399.0 194.4L399.8 194.5L400.6 194.5L401.4 194.6L402.3 194.6L403.1 194.6L403.9 194.6L404.7 194.7L405.5 194.7L406.3 194.7L407.1 194.7L407.8 194.7L408.6 194.7L409.4 194.7L410.2 194.7L411.0 194.6L411.8 194.6L412.6 194.6L413.4 194.6L414.2 194.5L415.0 194.5L415.8 194.5L416.6 194.5L417.4 194.4L418.2 194.4L419.0 194.4L419.8 194.3L420.7 194.3L421.5 194.3L422.3 194.2L423.2 194.2L424.0 194.2L424.8 194.3L425.6 194.4L426.4 194.5L427.2 194.7L427.9 194.9L428.6 195.2L429.3 195.6L429.9 196.0L430.5 196.5L431.1 197.0L431.6 197.6L432.0 198.2L432.4 198.9L432.7 199.5L433.1 200.3L433.3 201.0L433.6 201.8L433.9 202.5L434.1 203.3L434.3 204.1L434.5 204.9L434.7 205.8L434.9 206.6L435.1 207.3L435.4 208.1L435.6 208.9L435.8 209.7L436.0 210.5L436.2 211.3L436.5 212.1L436.7 212.8L436.9 213.6L437.1 214.4L437.4 215.2L437.6 215.9L437.8 216.7L438.1 217.5L438.3 218.2L438.5 219.0L438.8 219.8L439.0 220.5L439.2 221.3L439.5 222.1L439.7 222.8L439.9 223.6L440.2 224.3L440.4 225.1L440.6 225.9L440.9 226.6L441.1 227.4L441.3 228.2L441.6 228.9L441.8 229.7L442.0 230.5L442.2 231.2L442.5 232.0L442.7 232.8L442.9 233.5L443.1 234.3L443.4 235.1L443.6 235.9L443.8 236.6L444.0 237.4L444.3 238.2L444.5 239.0L444.7 239.7L445.0 240.5L445.2 241.3L445.4 242.0L445.7 242.8L445.9 243.6L446.2 244.4L446.4 245.1L446.7 245.9L446.9 246.7L447.2 247.4L447.4 248.2L447.7 248.9L448.0 249.7L448.3 250.5L448.5 251.2L448.8 252.0L449.1 252.7L449.4 253.4L449.7 254.2L450.1 254.9L450.4 255.6L450.7 256.4L451.1 257.1L451.4 257.8L451.8 258.5L452.1 259.2L452.5 259.9L452.9 260.6L453.3 261.3L453.7 262.0L454.1 262.7L454.5 263.3L455.0 264.0L455.5 264.6L456.0 265.2L456.6 265.7L457.2 266.2L457.9 266.7L458.6 267.1L459.4 267.4L460.2 267.6L461.1 267.8L462.0 267.9L462.8 268.0L463.7 267.9L464.5 267.8L465.2 267.7L466.0 267.5L466.7 267.2L467.5 266.9L468.2 266.5L468.8 266.1L469.5 265.7L470.1 265.3L470.8 264.8L471.4 264.3L472.0 263.8L472.6 263.3L473.1 262.7L473.7 262.2L474.3 261.6L474.8 261.1L475.3 260.5L475.9 259.9L476.4 259.3L476.9 258.7L477.4 258.0L477.9 257.4L478.4 256.8L478.9 256.1L479.3 255.5L479.8 254.8L480.3 254.2L480.8 253.5L481.3 252.9L481.7 252.2L482.2 251.5L482.7 250.9L483.2 250.2L483.6 249.6L484.1 248.9L484.6 248.3L485.1 247.6L485.6 247.0L486.0 246.3L486.5 245.7L487.0 245.1L487.5 244.4L488.0 243.8L488.5 243.1L489.0 242.5L489.5 241.9L490.0 241.2L490.5 240.6L491.0 240.0L491.5 239.3L491.9 238.7L492.4 238.1L492.9 237.4L493.4 236.8L493.9 236.2L494.4 235.6L494.9 234.9L495.4 234.3L495.9 233.6L496.4 233.0L496.8 232.4L497.3 231.7L497.8 231.1L498.3 230.5L498.8 229.8L499.3 229.2L499.7 228.5L500.2 227.9L500.7 227.2L501.1 226.6L501.6 225.9L502.1 225.3L502.5 224.6L503.0 224.0L503.4 223.3L503.9 222.6L504.3 222.0L504.8 221.3L505.2 220.6L505.7 220.0L506.1 219.3L506.5 218.6L507.0 217.9L507.4 217.2L507.8 216.6L508.2 215.9L508.7 215.2L509.1 214.5L509.5 213.8L510.0 213.1L510.4 212.4L510.8 211.8L511.3 211.1L511.7 210.4L512.1 209.7L512.6 209.0L513.0 208.4L513.5 207.7L513.9 207.0L514.4 206.4L514.9 205.8L515.4 205.2L515.9 204.6L516.5 204.0L517.0 203.4L517.6 202.9L518.2 202.4L518.8 201.9L519.5 201.4L520.1 201.0L520.8 200.6" stroke="#f8b69c" stroke-width="0.98" fill="none" stroke-linejoin="round"/>
<path d="M325.7 199.8L326.5 200.0L327.3 200.2L328.1 200.3L328.9 200.5L329.7 200.7L330.5 200.9L331.2 201.1L332.0 201.3L332.8 201.5L333.7 201.7L334.5 202.0L335.3 202.2L336.1 202.4L336.9 202.6L337.7 202.8L338.5 202.9L339.3 203.1L340.2 203.3L341.0 203.5L341.8 203.6L342.6 203.8L343.4 203.9L344.3 204.0L345.1 204.1L345.9 204.2L346.7 204.3L347.5 204.3L348.4 204.4L349.2 204.4L350.0 204.4L350.8 204.3L351.6 204.3L352.4 204.2L353.2 204.1L354.0 204.0L354.8 203.8L355.6 203.7L356.4 203.5L357.2 203.3L358.0 203.0L358.8 202.8L359.6 202.5L360.3 202.2L361.1 201.9L361.9 201.6L362.6 201.3L363.4 200.9L364.1 200.6L364.9 200.2L365.6 199.8L366.4 199.4L367.1 199.0L367.8 198.6L368.6 198.2L369.3 197.8L370.0 197.4L370.8 197.0L371.5 196.6L372.2 196.2L373.0 195.9L373.7 195.5L374.5 195.2L375.2 195.0L376.0 194.7L376.8 194.5L377.5 194.2L378.3 194.0L379.1 193.9L379.9 193.7L380.7 193.5L381.5 193.4L382.3 193.3L383.1 193.2L383.9 193.1L384.7 193.0L385.5 193.0L386.3 192.9L387.2 192.9L388.0 192.8L388.8 192.8L389.6 192.8L390.5 192.8L391.3 192.8L392.1 192.8L393.0 192.9L393.8 192.9L394.6 192.9L395.5 192.9L396.3 193.0L397.1 193.0L398.0 193.1L398.8 193.1L399.6 193.2L400.5 193.2L401.3 193.2L402.2 193.3L403.0 193.3L403.8 193.4L404.7 193.4L405.5 193.4L406.3 193.5L407.1 193.5L408.0 193.5L408.8 193.5L409.6 193.5L410.4 193.5L411.3 193.5L412.1 193.5L412.9 193.4L413.7 193.4L414.5 193.3L415.3 193.3L416.1 193.2L416.9 193.2L417.7 193.1L418.5 193.0L419.4 193.0L420.2 192.9L421.0 192.8L421.8 192.8L422.7 192.7L423.5 192.7L424.4 192.6L425.2 192.6L426.0 192.7L426.7 192.8L427.4 193.1L428.0 193.4L428.5 193.9L429.0 194.5L429.5 195.1L429.8 195.8L430.2 196.6L430.5 197.4L430.7 198.2L431.0 199.1L431.2 200.0L431.4 200.8L431.7 201.7L431.9 202.5L432.1 203.3L432.3 204.1L432.6 204.9L432.8 205.7L433.0 206.4L433.2 207.2L433.4 208.0L433.7 208.8L433.9 209.5L434.1 210.3L434.3 211.1L434.5 211.9L434.8 212.7L435.0 213.5L435.2 214.3L435.4 215.0L435.6 215.8L435.9 216.6L436.1 217.4L436.3 218.2L436.5 219.0L436.7 219.8L437.0 220.6L437.2 221.4L437.4 222.2L437.6 223.0L437.8 223.8L438.1 224.6L438.3 225.4L438.5 226.2L438.7 227.0L439.0 227.8L439.2 228.6L439.4 229.4L439.7 230.2L439.9 231.0L440.1 231.8L440.3 232.6L440.6 233.4L440.8 234.2L441.0 235.0L441.3 235.8L441.5 236.6L441.8 237.3L442.0 238.1L442.2 238.9L442.5 239.7L442.7 240.5L443.0 241.3L443.2 242.0L443.5 242.8L443.7 243.6L444.0 244.3L444.3 245.1L444.5 245.9L444.8 246.7L445.1 247.4L445.4 248.2L445.6 249.0L445.9 249.7L446.2 250.5L446.5 251.3L446.8 252.0L447.1 252.8L447.5 253.6L447.8 254.3L448.1 255.1L448.4 255.9L448.8 256.7L449.1 257.4L449.5 258.2L449.9 259.0L450.3 259.7L450.7 260.5L451.1 261.2L451.5 261.9L452.0 262.6L452.4 263.3L452.9 263.9L453.4 264.6L453.9 265.2L454.5 265.8L455.1 266.3L455.6 266.9L456.3 267.4L456.9 267.8L457.6 268.3L458.3 268.6L459.0 269.0L459.7 269.3L460.5 269.6L461.3 269.8L462.1 270.0L463.0 270.1L463.8 270.2L464.7 270.2L465.5 270.2L466.4 270.1L467.2 270.0L468.0 269.9L468.8 269.6L469.6 269.4L470.4 269.1L471.1 268.7L471.8 268.2L472.4 267.8L473.0 267.2L473.6 266.7L474.2 266.1L474.7 265.4L475.3 264.8L475.8 264.2L476.3 263.5L476.8 262.9L477.3 262.2L477.9 261.6L478.4 260.9L478.9 260.3L479.4 259.6L479.9 258.9L480.4 258.3L480.8 257.6L481.3 257.0L481.8 256.3L482.3 255.6L482.7 254.9L483.2 254.3L483.7 253.6L484.1 252.9L484.6 252.2L485.0 251.5L485.5 250.8L485.9 250.1L486.3 249.4L486.8 248.7L487.2 248.0L487.6 247.3L488.0 246.6L488.4 245.9L488.8 245.2L489.2 244.4L489.7 243.7L490.1 243.0L490.4 242.3L490.8 241.5L491.2 240.8L491.6 240.1L492.0 239.3L492.4 238.6L492.8 237.9L493.2 237.1L493.6 236.4L493.9 235.7L494.3 234.9L494.7 234.2L495.1 233.5L495.5 232.8L495.9 232.0L496.2 231.3L496.6 230.6L497.0 229.8L497.4 229.1L497.8 228.4L498.2 227.7L498.6 226.9L499.0 226.2L499.4 225.5L499.8 224.8L500.2 224.1L500.6 223.4L501.0 222.7L501.4 222.0L501.8 221.2L502.2 220.5L502.7 219.9L503.1 219.2L503.5 218.5L504.0 217.8L504.4 217.1L504.8 216.4L505.3 215.7L505.7 215.0L506.2 214.3L506.6 213.6L507.1 212.9L507.5 212.2L508.0 211.5L508.4 210.8L508.9 210.1L509.4 209.4L509.8 208.7L510.3 207.9L510.8 207.3L511.3 206.6L511.8 205.9L512.3 205.3L512.8 204.6L513.4 204.0L513.9 203.4L514.5 202.9L515.1 202.4L515.7 201.9L516.3 201.5L516.9 201.1L517.6 200.7L518.3 200.5L519.1 200.4L520.0 200.4L520.9 200.6" stroke="#62b2e2" stroke-width="1.08" fill="none" stroke-linejoin="round"/>
<rect x="325.50" y="173.90" width="217.05" height="108.90" fill="none" stroke="#d8d8d8" stroke-width="0.9"/>
<text x="325.50" y="292.80" class="tk" text-anchor="middle">0</text>
<text x="352.63" y="292.80" class="tk" text-anchor="middle">0.1</text>
<text x="379.76" y="292.80" class="tk" text-anchor="middle">0.2</text>
<text x="406.89" y="292.80" class="tk" text-anchor="middle">0.3</text>
<text x="434.02" y="292.80" class="tk" text-anchor="middle">0.4</text>
<text x="461.16" y="292.80" class="tk" text-anchor="middle">0.5</text>
<text x="488.29" y="292.80" class="tk" text-anchor="middle">0.6</text>
<text x="515.42" y="292.80" class="tk" text-anchor="middle">0.7</text>
<text x="542.55" y="292.80" class="tk" text-anchor="middle">0.8</text>
<text x="323.30" y="285.75" class="tk" text-anchor="end">-0.8</text>
<text x="323.30" y="258.52" class="tk" text-anchor="end">-0.6</text>
<text x="323.30" y="231.30" class="tk" text-anchor="end">-0.4</text>
<text x="323.30" y="204.07" class="tk" text-anchor="end">-0.2</text>
<text x="323.30" y="176.85" class="tk" text-anchor="end">0</text>
<text x="434.02" y="301.40" class="lb" text-anchor="middle">Time(s)</text>
<text transform="translate(308.70 228.35) rotate(-90)" class="yl" text-anchor="middle">Right Knee Pos(rad)</text>
<rect x="346.20" y="254.50" width="78.81" height="19.10" fill="#fff" stroke="#dadada" stroke-width="0.8"/>
<path d="M347.20 259.30h6.6" stroke="#62b2e2" stroke-width="0.9"/>
<path d="M347.20 268.60h6.6" stroke="#f8b69c" stroke-width="0.9"/>
<text x="354.90" y="262.50" class="lg">Right knee target pos</text>
<text x="354.90" y="271.80" class="lg">Right knee real pos</text>
<text x="429.30" y="318.90" class="cp" text-anchor="middle">(d)</text>
<path d="M57.49 339.30V448.70 M84.64 339.30V448.70 M111.78 339.30V448.70 M138.93 339.30V448.70 M166.07 339.30V448.70 M193.21 339.30V448.70 M220.36 339.30V448.70 M30.35 430.47H247.50 M30.35 412.23H247.50 M30.35 394.00H247.50 M30.35 375.77H247.50 M30.35 357.53H247.50" stroke="#f6f6f6" stroke-width="0.8" fill="none"/>
<path d="M57.49 448.70v-2M57.49 339.30v2 M84.64 448.70v-2M84.64 339.30v2 M111.78 448.70v-2M111.78 339.30v2 M138.93 448.70v-2M138.93 339.30v2 M166.07 448.70v-2M166.07 339.30v2 M193.21 448.70v-2M193.21 339.30v2 M220.36 448.70v-2M220.36 339.30v2 M30.35 430.47h2M247.50 430.47h-2 M30.35 412.23h2M247.50 412.23h-2 M30.35 394.00h2M247.50 394.00h-2 M30.35 375.77h2M247.50 375.77h-2 M30.35 357.53h2M247.50 357.53h-2" stroke="#d8d8d8" stroke-width="0.7" fill="none"/>
<path d="M30.2 437.2L30.8 437.8L31.5 438.5L32.3 439.1L33.1 439.6L34.0 439.8L34.8 439.6L35.5 439.1L36.1 438.5L36.6 437.9L37.0 437.1L37.4 436.4L37.7 435.5L37.9 434.7L38.1 433.8L38.3 432.9L38.4 431.9L38.6 431.0L38.7 430.1L38.9 429.2L39.0 428.3L39.2 427.4L39.3 426.5L39.5 425.6L39.7 424.7L39.9 423.8L40.1 422.9L40.2 422.0L40.4 421.2L40.6 420.3L40.8 419.4L41.0 418.6L41.1 417.7L41.3 416.8L41.5 415.9L41.6 415.1L41.8 414.2L42.0 413.3L42.1 412.4L42.3 411.5L42.4 410.6L42.5 409.8L42.7 408.9L42.8 408.0L42.9 407.1L43.0 406.2L43.2 405.3L43.3 404.4L43.4 403.5L43.5 402.6L43.6 401.7L43.7 400.8L43.8 399.9L44.0 399.0L44.1 398.1L44.2 397.2L44.3 396.3L44.4 395.4L44.5 394.5L44.6 393.6L44.7 392.7L44.8 391.8L44.9 390.9L45.0 390.0L45.1 389.1L45.2 388.2L45.3 387.3L45.5 386.4L45.6 385.5L45.7 384.6L45.8 383.8L45.9 382.9L46.1 382.0L46.2 381.1L46.3 380.2L46.5 379.3L46.6 378.5L46.7 377.6L46.9 376.7L47.0 375.8L47.2 375.0L47.4 374.1L47.5 373.2L47.7 372.3L47.9 371.5L48.1 370.6L48.3 369.7L48.5 368.9L48.7 368.0L48.9 367.1L49.1 366.2L49.3 365.4L49.6 364.5L49.8 363.6L50.1 362.8L50.3 361.9L50.6 361.0L50.9 360.2L51.2 359.3L51.5 358.4L51.8 357.6L52.1 356.7L52.4 355.8L52.7 354.9L53.1 354.1L53.5 353.2L53.8 352.3L54.2 351.5L54.6 350.6L55.0 349.8L55.5 349.0L55.9 348.2L56.4 347.5L57.0 346.7L57.5 346.1L58.1 345.5L58.7 344.9L59.3 344.4L60.0 343.9L60.8 343.5L61.5 343.2L62.3 343.0L63.2 342.8L64.0 342.6L64.9 342.5L65.8 342.4L66.8 342.4L67.7 342.3L68.6 342.3L69.6 342.2L70.5 342.1L71.4 342.0L72.3 341.9L73.2 341.7L74.1 341.6L75.0 341.4L75.8 341.2L76.7 341.0L77.6 340.9L78.5 340.7L79.3 340.6L80.2 340.5L81.1 340.4L82.0 340.3L82.9 340.3L83.7 340.3L84.6 340.3L85.5 340.3L86.5 340.4L87.4 340.5L88.3 340.6L89.2 340.8L90.1 340.9L91.0 341.0L91.9 341.1L92.8 341.2L93.7 341.3L94.6 341.4L95.4 341.5L96.3 341.6L97.2 341.6L98.1 341.7L99.0 341.7L99.8 341.8L100.7 341.8L101.6 341.8L102.5 341.9L103.4 341.9L104.4 341.9L105.3 341.9L106.2 342.0L107.2 342.0L108.1 342.1L109.0 342.2L109.9 342.3L110.8 342.5L111.6 342.8L112.4 343.1L113.2 343.5L113.9 343.9L114.5 344.5L115.1 345.1L115.7 345.7L116.2 346.4L116.7 347.2L117.2 347.9L117.7 348.8L118.1 349.6L118.5 350.5L118.9 351.3L119.2 352.2L119.6 353.1L119.9 354.0L120.2 354.9L120.6 355.7L120.9 356.5L121.2 357.4L121.6 358.2L121.9 358.9L122.2 359.7L122.6 360.5L122.9 361.3L123.2 362.1L123.5 362.9L123.9 363.8L124.2 364.6L124.5 365.5L124.8 366.3L125.2 367.2L125.5 368.0L125.9 368.9L126.2 369.8L126.6 370.6L127.0 371.4L127.4 372.3L127.8 373.1L128.3 373.9L128.7 374.7L129.2 375.5L129.7 376.2L130.2 376.9L130.8 377.7L131.4 378.3L132.0 379.0L132.6 379.6L133.2 380.2L133.9 380.7L134.6 381.2L135.4 381.6L136.1 382.0L136.9 382.3L137.7 382.6L138.6 382.8L139.4 383.0L140.3 383.2L141.2 383.3L142.1 383.4L143.0 383.5L143.9 383.5L144.9 383.5L145.8 383.6L146.7 383.6L147.7 383.6L148.6 383.6L149.6 383.7L150.5 383.7L151.4 383.7L152.4 383.8L153.3 383.9L154.2 384.0L155.1 384.2L155.9 384.4L156.8 384.6L157.6 384.9L158.4 385.2L159.2 385.6L159.9 386.0L160.7 386.4L161.4 386.9L162.1 387.4L162.8 387.9L163.5 388.4L164.2 389.0L164.9 389.6L165.5 390.2L166.2 390.9L166.8 391.5L167.4 392.2L168.1 392.9L168.7 393.6L169.3 394.3L169.9 395.0L170.5 395.7L171.1 396.4L171.7 397.1L172.3 397.8L172.8 398.5L173.4 399.2L174.0 399.9L174.6 400.6L175.2 401.3L175.8 402.0L176.4 402.6L177.0 403.3L177.6 404.0L178.2 404.6L178.8 405.3L179.4 406.0L180.0 406.6L180.6 407.3L181.2 407.9L181.8 408.6L182.4 409.2L183.0 409.8L183.7 410.5L184.3 411.1L184.9 411.7L185.5 412.4L186.2 413.0L186.8 413.6L187.4 414.2L188.1 414.8L188.7 415.5L189.4 416.1L190.1 416.7L190.7 417.3L191.4 417.9L192.1 418.5L192.7 419.1L193.4 419.7L194.1 420.2L194.8 420.8L195.5 421.4L196.2 422.0L196.9 422.5L197.7 423.1L198.4 423.6L199.1 424.2L199.8 424.7L200.6 425.3L201.3 425.8L202.1 426.3L202.8 426.8L203.6 427.3L204.4 427.7L205.1 428.2L205.9 428.7L206.7 429.1L207.5 429.6L208.3 430.0L209.1 430.4L209.9 430.8L210.7 431.2L211.5 431.5L212.3 431.9L213.1 432.2L214.0 432.5L214.8 432.8L215.7 433.1L216.5 433.4L217.4 433.7L218.2 433.9L219.1 434.1L220.0 434.3L220.8 434.5L221.7 434.7L222.6 434.8L223.5 435.0L224.4 435.1L225.3 435.2" stroke="#f8b69c" stroke-width="0.98" fill="none" stroke-linejoin="round"/>
<path d="M30.2 439.8L30.6 440.7L31.2 441.6L31.8 442.3L32.6 442.6L33.3 442.5L33.9 442.0L34.5 441.3L34.9 440.5L35.4 439.8L35.7 439.0L36.0 438.1L36.3 437.3L36.5 436.4L36.7 435.5L36.9 434.6L37.0 433.7L37.1 432.7L37.2 431.8L37.3 430.9L37.4 429.9L37.5 429.0L37.6 428.1L37.7 427.2L37.8 426.3L37.9 425.4L38.1 424.4L38.2 423.5L38.3 422.6L38.4 421.7L38.5 420.8L38.6 419.9L38.7 419.0L38.8 418.1L38.9 417.2L39.0 416.3L39.1 415.4L39.2 414.5L39.3 413.6L39.4 412.7L39.5 411.8L39.6 410.9L39.7 410.0L39.8 409.1L39.9 408.2L40.0 407.3L40.1 406.3L40.2 405.4L40.3 404.5L40.4 403.6L40.5 402.7L40.6 401.8L40.7 400.9L40.8 400.0L40.9 399.1L41.0 398.2L41.1 397.3L41.2 396.4L41.3 395.5L41.4 394.6L41.5 393.6L41.6 392.7L41.7 391.8L41.8 390.9L41.9 390.0L41.9 389.1L42.0 388.2L42.1 387.3L42.2 386.3L42.3 385.4L42.4 384.5L42.5 383.6L42.6 382.7L42.7 381.8L42.8 380.8L42.9 379.9L43.0 379.0L43.1 378.1L43.2 377.2L43.3 376.3L43.4 375.4L43.6 374.5L43.7 373.6L43.8 372.7L44.0 371.8L44.2 370.9L44.4 370.0L44.5 369.1L44.7 368.2L45.0 367.4L45.2 366.5L45.4 365.6L45.7 364.8L46.0 363.9L46.2 363.1L46.5 362.2L46.8 361.4L47.2 360.5L47.5 359.7L47.9 358.8L48.2 358.0L48.6 357.2L49.0 356.4L49.4 355.5L49.8 354.7L50.2 353.9L50.7 353.0L51.1 352.2L51.6 351.4L52.0 350.6L52.5 349.8L53.0 349.0L53.6 348.2L54.1 347.5L54.7 346.8L55.3 346.1L55.9 345.5L56.6 344.9L57.3 344.4L58.1 343.9L58.8 343.5L59.6 343.1L60.5 342.7L61.3 342.5L62.2 342.2L63.1 342.1L64.0 341.9L64.9 341.9L65.8 341.9L66.7 341.9L67.6 341.9L68.6 342.0L69.5 342.0L70.4 342.0L71.3 341.9L72.2 341.8L73.2 341.7L74.1 341.5L75.0 341.3L75.9 341.1L76.8 340.9L77.7 340.7L78.6 340.6L79.5 340.5L80.4 340.4L81.3 340.3L82.2 340.2L83.1 340.2L84.0 340.2L84.9 340.2L85.8 340.2L86.7 340.3L87.6 340.4L88.5 340.4L89.4 340.5L90.3 340.6L91.2 340.7L92.1 340.8L93.0 340.9L93.9 341.0L94.8 341.2L95.7 341.3L96.6 341.4L97.5 341.5L98.5 341.6L99.4 341.6L100.3 341.7L101.2 341.8L102.2 341.8L103.1 341.9L104.0 341.9L105.0 342.0L105.9 342.1L106.8 342.2L107.6 342.3L108.5 342.5L109.3 342.7L110.1 343.0L110.9 343.4L111.6 343.8L112.3 344.3L113.0 344.9L113.6 345.5L114.2 346.2L114.8 347.0L115.3 347.7L115.8 348.6L116.2 349.4L116.6 350.3L117.0 351.2L117.4 352.1L117.7 353.0L118.1 354.0L118.3 354.9L118.6 355.8L118.8 356.7L119.0 357.6L119.2 358.5L119.4 359.3L119.6 360.2L119.8 361.1L119.9 361.9L120.1 362.8L120.3 363.6L120.5 364.5L120.7 365.3L120.9 366.2L121.1 367.0L121.4 367.9L121.7 368.8L122.1 369.7L122.5 370.6L122.9 371.4L123.4 372.2L124.0 372.9L124.6 373.5L125.3 374.1L126.0 374.7L126.7 375.2L127.4 375.8L128.0 376.4L128.6 377.1L129.1 377.9L129.6 378.8L130.1 379.6L130.5 380.4L131.1 381.2L131.8 381.7L132.5 382.2L133.3 382.6L134.2 383.0L135.1 383.3L135.9 383.6L136.8 383.9L137.7 384.2L138.5 384.5L139.4 384.8L140.2 385.1L141.1 385.4L141.9 385.7L142.8 386.0L143.6 386.3L144.5 386.6L145.4 386.8L146.2 387.1L147.1 387.3L148.0 387.5L148.9 387.8L149.9 388.0L150.8 388.2L151.7 388.4L152.6 388.6L153.5 388.9L154.3 389.2L155.2 389.5L156.1 389.8L156.9 390.1L157.7 390.5L158.5 390.9L159.3 391.3L160.1 391.8L160.9 392.2L161.7 392.7L162.4 393.2L163.2 393.7L163.9 394.2L164.6 394.7L165.3 395.3L166.0 395.9L166.7 396.5L167.4 397.1L168.1 397.7L168.8 398.3L169.4 398.9L170.1 399.6L170.7 400.2L171.4 400.9L172.0 401.5L172.6 402.2L173.3 402.9L173.9 403.6L174.5 404.3L175.1 405.0L175.7 405.7L176.3 406.4L176.9 407.1L177.5 407.8L178.1 408.5L178.7 409.1L179.3 409.8L179.9 410.5L180.5 411.2L181.1 411.8L181.8 412.5L182.4 413.1L183.1 413.7L183.8 414.3L184.5 414.9L185.2 415.4L185.9 415.9L186.7 416.4L187.5 416.9L188.2 417.4L189.1 417.8L189.9 418.2L190.7 418.6L191.6 419.0L192.4 419.4L193.2 419.8L194.1 420.2L194.9 420.6L195.7 421.0L196.5 421.4L197.4 421.8L198.2 422.3L199.0 422.7L199.8 423.1L200.6 423.5L201.4 423.9L202.2 424.3L203.0 424.7L203.9 425.2L204.7 425.6L205.5 426.0L206.3 426.4L207.1 426.8L207.9 427.2L208.7 427.6L209.5 428.0L210.3 428.5L211.2 428.9L212.0 429.3L212.8 429.7L213.6 430.0L214.5 430.4L215.3 430.8L216.1 431.2L217.0 431.6L217.8 432.0L218.6 432.5L219.4 432.9L220.2 433.3L221.0 433.7L221.8 434.1L222.6 434.6L223.3 435.1L224.0 435.7L224.6 436.3L225.0 437.2L225.3 438.2" stroke="#62b2e2" stroke-width="1.08" fill="none" stroke-linejoin="round"/>
<rect x="30.35" y="339.30" width="217.15" height="109.40" fill="none" stroke="#d8d8d8" stroke-width="0.9"/>
<text x="30.35" y="458.10" class="tk" text-anchor="middle">0</text>
<text x="57.49" y="458.10" class="tk" text-anchor="middle">0.1</text>
<text x="84.64" y="458.10" class="tk" text-anchor="middle">0.2</text>
<text x="111.78" y="458.10" class="tk" text-anchor="middle">0.3</text>
<text x="138.93" y="458.10" class="tk" text-anchor="middle">0.4</text>
<text x="166.07" y="458.10" class="tk" text-anchor="middle">0.5</text>
<text x="193.21" y="458.10" class="tk" text-anchor="middle">0.6</text>
<text x="220.36" y="458.10" class="tk" text-anchor="middle">0.7</text>
<text x="247.50" y="458.10" class="tk" text-anchor="middle">0.8</text>
<text x="28.15" y="451.65" class="tk" text-anchor="end">-0.1</text>
<text x="28.15" y="433.42" class="tk" text-anchor="end">-0.05</text>
<text x="28.15" y="415.18" class="tk" text-anchor="end">0</text>
<text x="28.15" y="396.95" class="tk" text-anchor="end">0.05</text>
<text x="28.15" y="378.72" class="tk" text-anchor="end">0.1</text>
<text x="28.15" y="360.48" class="tk" text-anchor="end">0.15</text>
<text x="28.15" y="342.25" class="tk" text-anchor="end">0.2</text>
<text x="138.93" y="467.30" class="lb" text-anchor="middle">Time(s)</text>
<text transform="translate(9.60 394.00) rotate(-90)" class="yl" text-anchor="middle">Left Ankle Pos(rad)</text>
<rect x="162.30" y="350.20" width="75.59" height="19.10" fill="#fff" stroke="#dadada" stroke-width="0.8"/>
<path d="M163.30 355.00h6.6" stroke="#62b2e2" stroke-width="0.9"/>
<path d="M163.30 364.30h6.6" stroke="#f8b69c" stroke-width="0.9"/>
<text x="171.00" y="358.20" class="lg">Left ankle target pos</text>
<text x="171.00" y="367.50" class="lg">Left ankle real pos</text>
<text x="133.90" y="485.10" class="cp" text-anchor="middle">(e)</text>
<path d="M352.63 339.40V448.55 M379.76 339.40V448.55 M406.89 339.40V448.55 M434.02 339.40V448.55 M461.16 339.40V448.55 M488.29 339.40V448.55 M515.42 339.40V448.55 M325.50 430.36H542.55 M325.50 412.17H542.55 M325.50 393.98H542.55 M325.50 375.78H542.55 M325.50 357.59H542.55" stroke="#f6f6f6" stroke-width="0.8" fill="none"/>
<path d="M352.63 448.55v-2M352.63 339.40v2 M379.76 448.55v-2M379.76 339.40v2 M406.89 448.55v-2M406.89 339.40v2 M434.02 448.55v-2M434.02 339.40v2 M461.16 448.55v-2M461.16 339.40v2 M488.29 448.55v-2M488.29 339.40v2 M515.42 448.55v-2M515.42 339.40v2 M325.50 430.36h2M542.55 430.36h-2 M325.50 412.17h2M542.55 412.17h-2 M325.50 393.98h2M542.55 393.98h-2 M325.50 375.78h2M542.55 375.78h-2 M325.50 357.59h2M542.55 357.59h-2" stroke="#d8d8d8" stroke-width="0.7" fill="none"/>
<path d="M325.6 381.4L326.0 382.4L326.6 383.2L327.2 383.7L327.9 384.1L328.7 384.4L329.6 384.6L330.4 384.8L331.3 384.9L332.2 385.1L333.0 385.3L333.9 385.6L334.7 385.8L335.6 386.1L336.4 386.4L337.3 386.6L338.1 386.9L339.0 387.1L339.9 387.4L340.7 387.6L341.6 387.8L342.5 388.1L343.4 388.3L344.2 388.5L345.1 388.7L346.0 389.0L346.9 389.2L347.7 389.4L348.6 389.7L349.5 390.0L350.3 390.3L351.1 390.6L352.0 390.9L352.8 391.3L353.6 391.6L354.4 392.0L355.1 392.4L355.9 392.9L356.6 393.4L357.4 393.9L358.1 394.4L358.8 395.0L359.5 395.6L360.2 396.1L360.8 396.8L361.5 397.4L362.1 398.0L362.8 398.6L363.4 399.3L364.1 399.9L364.7 400.6L365.4 401.2L366.0 401.9L366.6 402.5L367.3 403.1L367.9 403.8L368.6 404.4L369.2 405.0L369.9 405.6L370.5 406.2L371.2 406.8L371.8 407.4L372.4 408.0L373.1 408.7L373.7 409.3L374.3 409.9L374.9 410.6L375.6 411.2L376.2 411.9L376.8 412.6L377.4 413.2L378.0 413.8L378.7 414.5L379.3 415.1L380.0 415.7L380.7 416.3L381.4 416.8L382.1 417.3L382.8 417.8L383.6 418.3L384.3 418.8L385.1 419.2L385.9 419.6L386.7 419.9L387.6 420.3L388.4 420.7L389.3 421.0L390.1 421.3L390.9 421.7L391.8 422.0L392.6 422.4L393.5 422.7L394.3 423.1L395.1 423.4L395.9 423.8L396.8 424.2L397.6 424.5L398.4 424.9L399.2 425.3L400.0 425.7L400.8 426.1L401.6 426.5L402.4 426.8L403.2 427.2L404.0 427.6L404.8 428.0L405.7 428.4L406.5 428.8L407.3 429.1L408.1 429.5L408.9 429.9L409.7 430.3L410.5 430.6L411.3 431.0L412.2 431.3L413.0 431.7L413.8 432.0L414.7 432.4L415.5 432.7L416.3 433.0L417.2 433.4L418.0 433.7L418.8 434.1L419.6 434.5L420.4 434.9L421.2 435.4L422.0 435.9L422.7 436.4L423.5 437.0L424.2 437.6L424.9 438.3L425.5 439.0L426.2 439.8L426.7 440.5L427.3 441.0L427.8 441.4L428.2 441.3L428.5 440.9L428.8 440.3L429.1 439.5L429.3 438.6L429.6 437.7L429.8 436.8L430.0 435.9L430.2 435.0L430.4 434.1L430.6 433.2L430.8 432.3L431.0 431.4L431.2 430.5L431.3 429.6L431.5 428.7L431.7 427.9L431.8 427.0L432.0 426.1L432.1 425.2L432.2 424.3L432.4 423.4L432.5 422.5L432.6 421.6L432.8 420.7L432.9 419.8L433.0 419.0L433.2 418.1L433.3 417.2L433.4 416.3L433.5 415.4L433.6 414.5L433.8 413.6L433.9 412.7L434.0 411.9L434.1 411.0L434.3 410.1L434.4 409.2L434.5 408.3L434.7 407.4L434.8 406.5L434.9 405.6L435.1 404.8L435.2 403.9L435.3 403.0L435.5 402.1L435.6 401.2L435.8 400.3L435.9 399.4L436.1 398.6L436.2 397.7L436.3 396.8L436.5 395.9L436.6 395.0L436.8 394.1L436.9 393.2L437.1 392.3L437.2 391.5L437.3 390.6L437.5 389.7L437.6 388.8L437.8 387.9L437.9 387.0L438.0 386.1L438.2 385.2L438.3 384.4L438.5 383.5L438.6 382.6L438.7 381.7L438.9 380.8L439.0 379.9L439.1 379.0L439.2 378.1L439.4 377.2L439.5 376.4L439.6 375.5L439.7 374.6L439.8 373.7L439.9 372.8L440.1 371.9L440.2 371.0L440.3 370.1L440.4 369.3L440.6 368.4L440.7 367.5L440.9 366.6L441.1 365.8L441.3 364.9L441.5 364.0L441.7 363.2L442.0 362.3L442.2 361.4L442.5 360.6L442.8 359.8L443.1 358.9L443.5 358.1L443.9 357.3L444.3 356.4L444.7 355.6L445.2 354.8L445.6 354.0L446.2 353.3L446.7 352.5L447.3 351.8L447.8 351.1L448.4 350.4L449.1 349.8L449.7 349.1L450.4 348.5L451.1 348.0L451.8 347.5L452.6 347.0L453.3 346.6L454.1 346.2L454.9 345.8L455.7 345.6L456.5 345.3L457.4 345.1L458.3 345.0L459.1 345.0L460.1 345.0L461.0 345.0L461.9 345.1L462.8 345.2L463.7 345.2L464.7 345.2L465.5 345.1L466.4 345.0L467.3 344.8L468.2 344.6L469.0 344.4L469.9 344.1L470.7 343.9L471.6 343.7L472.5 343.5L473.4 343.4L474.3 343.3L475.2 343.3L476.1 343.3L477.0 343.3L477.9 343.3L478.8 343.4L479.8 343.5L480.7 343.6L481.5 343.7L482.4 343.7L483.3 343.8L484.2 343.9L485.0 344.0L485.9 344.1L486.8 344.2L487.6 344.3L488.5 344.4L489.4 344.5L490.3 344.6L491.1 344.6L492.0 344.7L493.0 344.7L493.9 344.7L494.8 344.7L495.8 344.7L496.7 344.7L497.7 344.7L498.6 344.7L499.5 344.8L500.5 344.8L501.4 344.9L502.2 345.1L503.1 345.3L503.9 345.6L504.6 346.0L505.4 346.4L506.1 346.8L506.8 347.3L507.4 347.8L508.1 348.4L508.7 349.0L509.3 349.7L509.8 350.4L510.3 351.1L510.8 351.9L511.3 352.6L511.8 353.4L512.2 354.2L512.6 355.1L513.0 355.9L513.4 356.8L513.8 357.7L514.1 358.5L514.4 359.4L514.7 360.3L515.0 361.2L515.3 362.0L515.6 362.9L515.8 363.8L516.1 364.6L516.3 365.5L516.5 366.3L516.8 367.2L517.0 368.0L517.2 368.8L517.4 369.7L517.7 370.5L517.9 371.4L518.1 372.2L518.4 373.0L518.6 373.9L518.9 374.7L519.2 375.6L519.5 376.5L519.8 377.3L520.1 378.2L520.5 379.1L520.9 379.9" stroke="#f8b69c" stroke-width="0.98" fill="none" stroke-linejoin="round"/>
<path d="M325.9 383.4L326.8 382.9L327.6 382.7L328.5 382.6L329.3 382.7L330.2 383.0L331.0 383.3L331.9 383.7L332.7 384.1L333.5 384.6L334.4 385.0L335.2 385.4L336.1 385.7L336.9 386.1L337.8 386.4L338.6 386.7L339.5 387.0L340.3 387.3L341.2 387.6L342.0 387.8L342.9 388.1L343.8 388.4L344.6 388.6L345.5 388.9L346.4 389.2L347.3 389.4L348.1 389.7L349.0 390.0L349.9 390.3L350.7 390.7L351.6 391.0L352.4 391.4L353.3 391.8L354.1 392.2L354.8 392.6L355.6 393.1L356.4 393.6L357.1 394.1L357.8 394.7L358.5 395.3L359.1 395.9L359.8 396.5L360.4 397.1L361.1 397.8L361.7 398.5L362.3 399.2L362.9 399.8L363.5 400.5L364.1 401.2L364.7 401.9L365.4 402.6L366.0 403.3L366.6 404.0L367.2 404.7L367.8 405.4L368.4 406.1L369.0 406.8L369.6 407.5L370.2 408.1L370.8 408.8L371.4 409.5L372.1 410.1L372.7 410.8L373.3 411.4L374.0 412.1L374.6 412.7L375.3 413.3L376.0 413.9L376.6 414.5L377.3 415.1L378.0 415.7L378.7 416.2L379.5 416.7L380.2 417.2L381.0 417.7L381.7 418.2L382.5 418.7L383.3 419.2L384.0 419.6L384.8 420.0L385.7 420.5L386.5 420.9L387.3 421.3L388.1 421.7L388.9 422.0L389.8 422.4L390.6 422.8L391.5 423.2L392.3 423.5L393.2 423.9L394.0 424.2L394.9 424.6L395.7 425.0L396.6 425.3L397.4 425.7L398.2 426.0L399.1 426.4L399.9 426.8L400.8 427.2L401.6 427.5L402.4 427.9L403.2 428.3L404.1 428.7L404.9 429.1L405.7 429.5L406.5 429.9L407.3 430.3L408.1 430.7L408.9 431.1L409.8 431.5L410.6 431.9L411.4 432.3L412.2 432.7L413.0 433.1L413.8 433.4L414.6 433.8L415.5 434.2L416.3 434.6L417.1 435.0L417.9 435.4L418.7 435.8L419.5 436.3L420.3 436.8L421.1 437.4L421.8 438.0L422.5 438.6L423.2 439.3L423.9 440.0L424.6 440.7L425.2 441.4L425.8 441.8L426.3 441.9L426.7 441.6L427.0 441.0L427.3 440.2L427.6 439.3L427.8 438.4L428.0 437.5L428.2 436.6L428.3 435.7L428.5 434.8L428.6 433.9L428.8 433.0L428.9 432.0L429.0 431.1L429.2 430.2L429.3 429.3L429.4 428.4L429.5 427.5L429.7 426.6L429.8 425.7L429.9 424.8L430.0 423.9L430.1 422.9L430.3 422.0L430.4 421.1L430.5 420.2L430.6 419.3L430.7 418.4L430.8 417.5L430.9 416.6L431.0 415.7L431.1 414.8L431.3 413.9L431.4 413.0L431.5 412.1L431.6 411.2L431.7 410.3L431.8 409.4L431.9 408.5L432.1 407.6L432.2 406.7L432.3 405.8L432.4 404.9L432.6 404.0L432.7 403.1L432.8 402.2L432.9 401.3L433.1 400.4L433.2 399.5L433.4 398.6L433.5 397.7L433.6 396.8L433.8 395.9L433.9 395.0L434.1 394.1L434.2 393.2L434.4 392.3L434.5 391.4L434.6 390.5L434.8 389.6L434.9 388.7L435.1 387.8L435.2 386.9L435.3 385.9L435.4 385.0L435.6 384.1L435.7 383.2L435.8 382.3L435.9 381.4L436.0 380.5L436.1 379.6L436.2 378.7L436.3 377.8L436.4 376.9L436.5 376.0L436.6 375.1L436.7 374.2L436.8 373.3L436.9 372.4L437.1 371.5L437.2 370.6L437.3 369.7L437.5 368.8L437.7 367.9L437.8 367.0L438.0 366.1L438.2 365.2L438.5 364.3L438.7 363.4L438.9 362.6L439.2 361.7L439.5 360.8L439.8 360.0L440.1 359.1L440.4 358.3L440.8 357.4L441.1 356.6L441.5 355.8L441.9 355.0L442.3 354.2L442.8 353.4L443.3 352.6L443.7 351.8L444.2 351.0L444.8 350.3L445.3 349.6L445.9 348.8L446.5 348.1L447.1 347.4L447.7 346.7L448.3 346.1L449.0 345.4L449.6 344.8L450.3 344.2L451.1 343.7L451.8 343.2L452.6 342.8L453.5 342.5L454.3 342.4L455.3 342.3L456.2 342.3L457.2 342.4L458.1 342.5L459.1 342.5L460.0 342.4L460.9 342.3L461.8 342.1L462.6 341.9L463.5 341.6L464.3 341.4L465.2 341.1L466.1 340.9L466.9 340.7L467.8 340.5L468.7 340.3L469.6 340.1L470.5 339.9L471.4 339.8L472.3 339.6L473.2 339.5L474.1 339.4L475.0 339.4L475.9 339.3L476.8 339.3L477.7 339.3L478.6 339.3L479.5 339.4L480.4 339.4L481.3 339.5L482.2 339.7L483.1 339.8L484.0 340.0L484.9 340.2L485.8 340.5L486.7 340.7L487.6 341.0L488.4 341.2L489.3 341.4L490.2 341.6L491.1 341.8L492.0 341.9L492.9 341.9L493.8 341.8L494.7 341.7L495.6 341.5L496.6 341.3L497.5 341.1L498.4 341.1L499.3 341.1L500.2 341.3L501.1 341.6L502.0 342.0L502.8 342.4L503.6 343.0L504.4 343.5L505.1 344.1L505.8 344.7L506.4 345.3L507.0 346.0L507.6 346.6L508.1 347.3L508.6 348.0L509.1 348.8L509.5 349.5L510.0 350.3L510.4 351.1L510.7 351.9L511.1 352.7L511.4 353.6L511.7 354.4L512.0 355.3L512.3 356.1L512.5 357.0L512.7 357.9L513.0 358.8L513.2 359.7L513.4 360.6L513.6 361.5L513.8 362.4L514.0 363.4L514.2 364.3L514.4 365.2L514.6 366.1L514.8 367.0L515.0 367.9L515.2 368.8L515.4 369.7L515.6 370.6L515.9 371.5L516.1 372.4L516.4 373.3L516.6 374.1L516.9 375.0L517.2 375.8L517.6 376.7L517.9 377.5L518.3 378.3L518.7 379.0L519.1 379.8" stroke="#62b2e2" stroke-width="1.08" fill="none" stroke-linejoin="round"/>
<rect x="325.50" y="339.40" width="217.05" height="109.15" fill="none" stroke="#d8d8d8" stroke-width="0.9"/>
<text x="325.50" y="457.95" class="tk" text-anchor="middle">0</text>
<text x="352.63" y="457.95" class="tk" text-anchor="middle">0.1</text>
<text x="379.76" y="457.95" class="tk" text-anchor="middle">0.2</text>
<text x="406.89" y="457.95" class="tk" text-anchor="middle">0.3</text>
<text x="434.02" y="457.95" class="tk" text-anchor="middle">0.4</text>
<text x="461.16" y="457.95" class="tk" text-anchor="middle">0.5</text>
<text x="488.29" y="457.95" class="tk" text-anchor="middle">0.6</text>
<text x="515.42" y="457.95" class="tk" text-anchor="middle">0.7</text>
<text x="542.55" y="457.95" class="tk" text-anchor="middle">0.8</text>
<text x="323.30" y="451.50" class="tk" text-anchor="end">-0.1</text>
<text x="323.30" y="433.31" class="tk" text-anchor="end">-0.05</text>
<text x="323.30" y="415.12" class="tk" text-anchor="end">0</text>
<text x="323.30" y="396.93" class="tk" text-anchor="end">0.05</text>
<text x="323.30" y="378.73" class="tk" text-anchor="end">0.1</text>
<text x="323.30" y="360.54" class="tk" text-anchor="end">0.15</text>
<text x="323.30" y="342.35" class="tk" text-anchor="end">0.2</text>
<text x="434.02" y="467.15" class="lb" text-anchor="middle">Time(s)</text>
<text transform="translate(304.70 393.98) rotate(-90)" class="yl" text-anchor="middle">Right Ankle Pos(rad)</text>
<rect x="451.30" y="418.30" width="80.42" height="19.10" fill="#fff" stroke="#dadada" stroke-width="0.8"/>
<path d="M452.30 423.10h6.6" stroke="#62b2e2" stroke-width="0.9"/>
<path d="M452.30 432.40h6.6" stroke="#f8b69c" stroke-width="0.9"/>
<text x="460.00" y="426.30" class="lg">Right ankle target pos</text>
<text x="460.00" y="435.60" class="lg">Right ankle real pos</text>
<text x="429.10" y="485.10" class="cp" text-anchor="middle">(f)</text>
</svg>
</body></html>
